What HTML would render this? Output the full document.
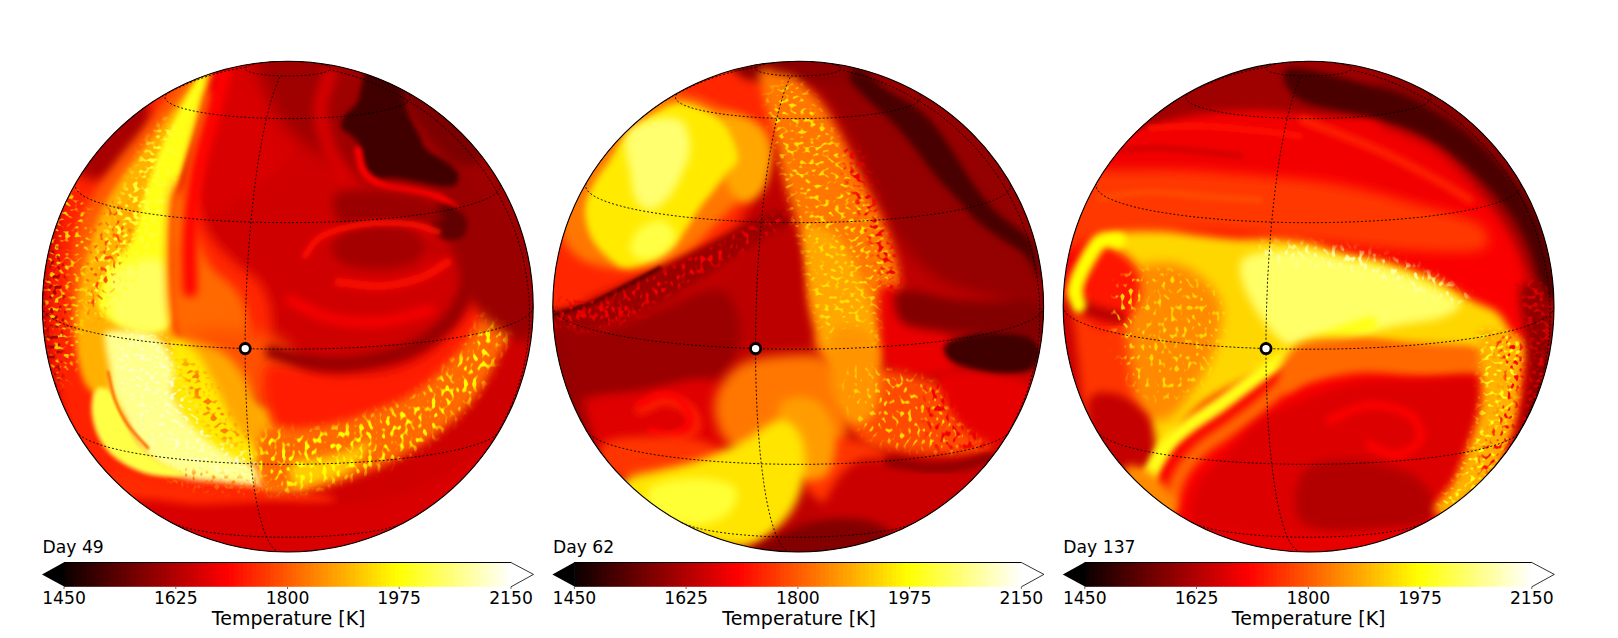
<!DOCTYPE html>
<html><head><meta charset="utf-8"><title>Temperature maps</title>
<style>
html,body{margin:0;padding:0;background:#fff;width:1618px;height:638px;overflow:hidden}
svg{display:block}
text{font-family:"DejaVu Sans","Liberation Sans",sans-serif;fill:#000}
</style></head><body>
<svg width="1618" height="638" viewBox="0 0 1618 638">
<defs><linearGradient id="cb" x1="0" x2="1" y1="0" y2="0"><stop offset="0.0000" stop-color="#0e0000"/><stop offset="0.0100" stop-color="#0e0000"/><stop offset="0.0100" stop-color="#150000"/><stop offset="0.0200" stop-color="#150000"/><stop offset="0.0200" stop-color="#1b0000"/><stop offset="0.0300" stop-color="#1b0000"/><stop offset="0.0300" stop-color="#220000"/><stop offset="0.0400" stop-color="#220000"/><stop offset="0.0400" stop-color="#290000"/><stop offset="0.0500" stop-color="#290000"/><stop offset="0.0500" stop-color="#2f0000"/><stop offset="0.0600" stop-color="#2f0000"/><stop offset="0.0600" stop-color="#360000"/><stop offset="0.0700" stop-color="#360000"/><stop offset="0.0700" stop-color="#3d0000"/><stop offset="0.0800" stop-color="#3d0000"/><stop offset="0.0800" stop-color="#440000"/><stop offset="0.0900" stop-color="#440000"/><stop offset="0.0900" stop-color="#4a0000"/><stop offset="0.1000" stop-color="#4a0000"/><stop offset="0.1000" stop-color="#510000"/><stop offset="0.1100" stop-color="#510000"/><stop offset="0.1100" stop-color="#580000"/><stop offset="0.1200" stop-color="#580000"/><stop offset="0.1200" stop-color="#5e0000"/><stop offset="0.1300" stop-color="#5e0000"/><stop offset="0.1300" stop-color="#650000"/><stop offset="0.1400" stop-color="#650000"/><stop offset="0.1400" stop-color="#6c0000"/><stop offset="0.1500" stop-color="#6c0000"/><stop offset="0.1500" stop-color="#720000"/><stop offset="0.1600" stop-color="#720000"/><stop offset="0.1600" stop-color="#790000"/><stop offset="0.1700" stop-color="#790000"/><stop offset="0.1700" stop-color="#800000"/><stop offset="0.1800" stop-color="#800000"/><stop offset="0.1800" stop-color="#860000"/><stop offset="0.1900" stop-color="#860000"/><stop offset="0.1900" stop-color="#8d0000"/><stop offset="0.2000" stop-color="#8d0000"/><stop offset="0.2000" stop-color="#940000"/><stop offset="0.2100" stop-color="#940000"/><stop offset="0.2100" stop-color="#9b0000"/><stop offset="0.2200" stop-color="#9b0000"/><stop offset="0.2200" stop-color="#a10000"/><stop offset="0.2300" stop-color="#a10000"/><stop offset="0.2300" stop-color="#a80000"/><stop offset="0.2400" stop-color="#a80000"/><stop offset="0.2400" stop-color="#af0000"/><stop offset="0.2500" stop-color="#af0000"/><stop offset="0.2500" stop-color="#b50000"/><stop offset="0.2600" stop-color="#b50000"/><stop offset="0.2600" stop-color="#bc0000"/><stop offset="0.2700" stop-color="#bc0000"/><stop offset="0.2700" stop-color="#c30000"/><stop offset="0.2800" stop-color="#c30000"/><stop offset="0.2800" stop-color="#c90000"/><stop offset="0.2900" stop-color="#c90000"/><stop offset="0.2900" stop-color="#d00000"/><stop offset="0.3000" stop-color="#d00000"/><stop offset="0.3000" stop-color="#d70000"/><stop offset="0.3100" stop-color="#d70000"/><stop offset="0.3100" stop-color="#dd0000"/><stop offset="0.3200" stop-color="#dd0000"/><stop offset="0.3200" stop-color="#e40000"/><stop offset="0.3300" stop-color="#e40000"/><stop offset="0.3300" stop-color="#eb0000"/><stop offset="0.3400" stop-color="#eb0000"/><stop offset="0.3400" stop-color="#f20000"/><stop offset="0.3500" stop-color="#f20000"/><stop offset="0.3500" stop-color="#f80000"/><stop offset="0.3600" stop-color="#f80000"/><stop offset="0.3600" stop-color="#ff0000"/><stop offset="0.3700" stop-color="#ff0000"/><stop offset="0.3700" stop-color="#ff0700"/><stop offset="0.3800" stop-color="#ff0700"/><stop offset="0.3800" stop-color="#ff0d00"/><stop offset="0.3900" stop-color="#ff0d00"/><stop offset="0.3900" stop-color="#ff1400"/><stop offset="0.4000" stop-color="#ff1400"/><stop offset="0.4000" stop-color="#ff1b00"/><stop offset="0.4100" stop-color="#ff1b00"/><stop offset="0.4100" stop-color="#ff2100"/><stop offset="0.4200" stop-color="#ff2100"/><stop offset="0.4200" stop-color="#ff2800"/><stop offset="0.4300" stop-color="#ff2800"/><stop offset="0.4300" stop-color="#ff2f00"/><stop offset="0.4400" stop-color="#ff2f00"/><stop offset="0.4400" stop-color="#ff3500"/><stop offset="0.4500" stop-color="#ff3500"/><stop offset="0.4500" stop-color="#ff3c00"/><stop offset="0.4600" stop-color="#ff3c00"/><stop offset="0.4600" stop-color="#ff4300"/><stop offset="0.4700" stop-color="#ff4300"/><stop offset="0.4700" stop-color="#ff4a00"/><stop offset="0.4800" stop-color="#ff4a00"/><stop offset="0.4800" stop-color="#ff5000"/><stop offset="0.4900" stop-color="#ff5000"/><stop offset="0.4900" stop-color="#ff5700"/><stop offset="0.5000" stop-color="#ff5700"/><stop offset="0.5000" stop-color="#ff5e00"/><stop offset="0.5100" stop-color="#ff5e00"/><stop offset="0.5100" stop-color="#ff6400"/><stop offset="0.5200" stop-color="#ff6400"/><stop offset="0.5200" stop-color="#ff6b00"/><stop offset="0.5300" stop-color="#ff6b00"/><stop offset="0.5300" stop-color="#ff7200"/><stop offset="0.5400" stop-color="#ff7200"/><stop offset="0.5400" stop-color="#ff7800"/><stop offset="0.5500" stop-color="#ff7800"/><stop offset="0.5500" stop-color="#ff7f00"/><stop offset="0.5600" stop-color="#ff7f00"/><stop offset="0.5600" stop-color="#ff8600"/><stop offset="0.5700" stop-color="#ff8600"/><stop offset="0.5700" stop-color="#ff8d00"/><stop offset="0.5800" stop-color="#ff8d00"/><stop offset="0.5800" stop-color="#ff9300"/><stop offset="0.5900" stop-color="#ff9300"/><stop offset="0.5900" stop-color="#ff9a00"/><stop offset="0.6000" stop-color="#ff9a00"/><stop offset="0.6000" stop-color="#ffa100"/><stop offset="0.6100" stop-color="#ffa100"/><stop offset="0.6100" stop-color="#ffa700"/><stop offset="0.6200" stop-color="#ffa700"/><stop offset="0.6200" stop-color="#ffae00"/><stop offset="0.6300" stop-color="#ffae00"/><stop offset="0.6300" stop-color="#ffb500"/><stop offset="0.6400" stop-color="#ffb500"/><stop offset="0.6400" stop-color="#ffbb00"/><stop offset="0.6500" stop-color="#ffbb00"/><stop offset="0.6500" stop-color="#ffc200"/><stop offset="0.6600" stop-color="#ffc200"/><stop offset="0.6600" stop-color="#ffc900"/><stop offset="0.6700" stop-color="#ffc900"/><stop offset="0.6700" stop-color="#ffcf00"/><stop offset="0.6800" stop-color="#ffcf00"/><stop offset="0.6800" stop-color="#ffd600"/><stop offset="0.6900" stop-color="#ffd600"/><stop offset="0.6900" stop-color="#ffdd00"/><stop offset="0.7000" stop-color="#ffdd00"/><stop offset="0.7000" stop-color="#ffe400"/><stop offset="0.7100" stop-color="#ffe400"/><stop offset="0.7100" stop-color="#ffea00"/><stop offset="0.7200" stop-color="#ffea00"/><stop offset="0.7200" stop-color="#fff100"/><stop offset="0.7300" stop-color="#fff100"/><stop offset="0.7300" stop-color="#fff800"/><stop offset="0.7400" stop-color="#fff800"/><stop offset="0.7400" stop-color="#fffe00"/><stop offset="0.7500" stop-color="#fffe00"/><stop offset="0.7500" stop-color="#ffff09"/><stop offset="0.7600" stop-color="#ffff09"/><stop offset="0.7600" stop-color="#ffff13"/><stop offset="0.7700" stop-color="#ffff13"/><stop offset="0.7700" stop-color="#ffff1d"/><stop offset="0.7800" stop-color="#ffff1d"/><stop offset="0.7800" stop-color="#ffff27"/><stop offset="0.7900" stop-color="#ffff27"/><stop offset="0.7900" stop-color="#ffff31"/><stop offset="0.8000" stop-color="#ffff31"/><stop offset="0.8000" stop-color="#ffff3b"/><stop offset="0.8100" stop-color="#ffff3b"/><stop offset="0.8100" stop-color="#ffff45"/><stop offset="0.8200" stop-color="#ffff45"/><stop offset="0.8200" stop-color="#ffff4f"/><stop offset="0.8300" stop-color="#ffff4f"/><stop offset="0.8300" stop-color="#ffff59"/><stop offset="0.8400" stop-color="#ffff59"/><stop offset="0.8400" stop-color="#ffff63"/><stop offset="0.8500" stop-color="#ffff63"/><stop offset="0.8500" stop-color="#ffff6d"/><stop offset="0.8600" stop-color="#ffff6d"/><stop offset="0.8600" stop-color="#ffff77"/><stop offset="0.8700" stop-color="#ffff77"/><stop offset="0.8700" stop-color="#ffff81"/><stop offset="0.8800" stop-color="#ffff81"/><stop offset="0.8800" stop-color="#ffff8c"/><stop offset="0.8900" stop-color="#ffff8c"/><stop offset="0.8900" stop-color="#ffff96"/><stop offset="0.9000" stop-color="#ffff96"/><stop offset="0.9000" stop-color="#ffffa0"/><stop offset="0.9100" stop-color="#ffffa0"/><stop offset="0.9100" stop-color="#ffffaa"/><stop offset="0.9200" stop-color="#ffffaa"/><stop offset="0.9200" stop-color="#ffffb4"/><stop offset="0.9300" stop-color="#ffffb4"/><stop offset="0.9300" stop-color="#ffffbe"/><stop offset="0.9400" stop-color="#ffffbe"/><stop offset="0.9400" stop-color="#ffffc8"/><stop offset="0.9500" stop-color="#ffffc8"/><stop offset="0.9500" stop-color="#ffffd2"/><stop offset="0.9600" stop-color="#ffffd2"/><stop offset="0.9600" stop-color="#ffffdc"/><stop offset="0.9700" stop-color="#ffffdc"/><stop offset="0.9700" stop-color="#ffffe6"/><stop offset="0.9800" stop-color="#ffffe6"/><stop offset="0.9800" stop-color="#fffff0"/><stop offset="0.9900" stop-color="#fffff0"/><stop offset="0.9900" stop-color="#fffffa"/><stop offset="1.0000" stop-color="#fffffa"/></linearGradient><filter id="b2" x="-50%" y="-50%" width="200%" height="200%"><feGaussianBlur stdDeviation="1"/></filter><filter id="b3" x="-50%" y="-50%" width="200%" height="200%"><feGaussianBlur stdDeviation="1.5"/></filter><filter id="b4" x="-50%" y="-50%" width="200%" height="200%"><feGaussianBlur stdDeviation="2"/></filter><filter id="b5" x="-50%" y="-50%" width="200%" height="200%"><feGaussianBlur stdDeviation="2.5"/></filter><filter id="b6" x="-50%" y="-50%" width="200%" height="200%"><feGaussianBlur stdDeviation="3"/></filter><filter id="b8" x="-50%" y="-50%" width="200%" height="200%"><feGaussianBlur stdDeviation="4"/></filter><filter id="b10" x="-50%" y="-50%" width="200%" height="200%"><feGaussianBlur stdDeviation="5"/></filter><filter id="b12" x="-50%" y="-50%" width="200%" height="200%"><feGaussianBlur stdDeviation="6"/></filter><filter id="b14" x="-50%" y="-50%" width="200%" height="200%"><feGaussianBlur stdDeviation="7"/></filter><filter id="b16" x="-50%" y="-50%" width="200%" height="200%"><feGaussianBlur stdDeviation="8"/></filter><filter id="gA" filterUnits="userSpaceOnUse" x="0" y="0" width="1618" height="638"><feTurbulence type="fractalNoise" baseFrequency="0.22 0.16" numOctaves="1" seed="3" result="n"/><feColorMatrix in="n" type="matrix" values="0 0 0 0 0 0 0 0 0 0 0 0 0 0 0 7 0 0 0 -3.7" result="m"/><feGaussianBlur in="SourceGraphic" stdDeviation="5" result="s"/><feComposite in="s" in2="m" operator="in"/></filter><filter id="gB" filterUnits="userSpaceOnUse" x="0" y="0" width="1618" height="638"><feTurbulence type="fractalNoise" baseFrequency="0.2 0.26" numOctaves="1" seed="7" result="n"/><feColorMatrix in="n" type="matrix" values="0 0 0 0 0 0 0 0 0 0 0 0 0 0 0 7 0 0 0 -3.8" result="m"/><feGaussianBlur in="SourceGraphic" stdDeviation="4" result="s"/><feComposite in="s" in2="m" operator="in"/></filter><filter id="gC" filterUnits="userSpaceOnUse" x="0" y="0" width="1618" height="638"><feTurbulence type="fractalNoise" baseFrequency="0.26 0.2" numOctaves="1" seed="11" result="n"/><feColorMatrix in="n" type="matrix" values="0 0 0 0 0 0 0 0 0 0 0 0 0 0 0 7 0 0 0 -3.8" result="m"/><feGaussianBlur in="SourceGraphic" stdDeviation="4" result="s"/><feComposite in="s" in2="m" operator="in"/></filter><filter id="gD" filterUnits="userSpaceOnUse" x="0" y="0" width="1618" height="638"><feTurbulence type="fractalNoise" baseFrequency="0.18 0.24" numOctaves="1" seed="17" result="n"/><feColorMatrix in="n" type="matrix" values="0 0 0 0 0 0 0 0 0 0 0 0 0 0 0 7 0 0 0 -3.6" result="m"/><feGaussianBlur in="SourceGraphic" stdDeviation="5" result="s"/><feComposite in="s" in2="m" operator="in"/></filter><filter id="gE" filterUnits="userSpaceOnUse" x="0" y="0" width="1618" height="638"><feTurbulence type="fractalNoise" baseFrequency="0.24 0.18" numOctaves="1" seed="23" result="n"/><feColorMatrix in="n" type="matrix" values="0 0 0 0 0 0 0 0 0 0 0 0 0 0 0 7 0 0 0 -4" result="m"/><feGaussianBlur in="SourceGraphic" stdDeviation="4" result="s"/><feComposite in="s" in2="m" operator="in"/></filter></defs>
<clipPath id="clip0"><circle cx="287.8" cy="306.6" r="245.4"/></clipPath>
<g clip-path="url(#clip0)">
<circle cx="287.8" cy="306.6" r="247.4" fill="#cf0000"/>
<path d="M200.0 50.0 C216.7 25.0 283.3 35.0 300.0 50.0 C316.7 65.0 310.0 115.0 300.0 140.0 C290.0 165.0 256.7 190.0 240.0 200.0 C223.3 210.0 206.7 225.0 200.0 200.0 C193.3 175.0 183.3 75.0 200.0 50.0Z" fill="#d80000" filter="url(#b10)"/>
<path d="M265.0 45.0 C289.2 34.2 380.8 34.2 420.0 45.0 C459.2 55.8 480.0 84.2 500.0 110.0 C520.0 135.8 533.3 173.3 540.0 200.0 C546.7 226.7 545.8 261.7 540.0 270.0 C534.2 278.3 516.7 259.2 505.0 250.0 C493.3 240.8 482.5 223.3 470.0 215.0 C457.5 206.7 445.0 204.5 430.0 200.0 C415.0 195.5 395.0 193.8 380.0 188.0 C365.0 182.2 353.3 173.0 340.0 165.0 C326.7 157.0 310.8 149.2 300.0 140.0 C289.2 130.8 280.8 125.8 275.0 110.0 C269.2 94.2 240.8 55.8 265.0 45.0Z" fill="#9f0000" filter="url(#b16)"/>
<path d="M20.0 130.0 C36.7 76.7 87.5 93.3 120.0 80.0 C152.5 66.7 199.7 50.7 215.0 50.0 C230.3 49.3 215.0 64.5 212.0 76.0 C209.0 87.5 201.5 105.3 197.0 119.0 C192.5 132.7 188.2 147.7 185.0 158.0 C181.8 168.3 180.2 171.8 178.0 181.0 C175.8 190.2 173.0 197.2 172.0 213.0 C171.0 228.8 171.5 260.3 172.0 276.0 C172.5 291.7 173.0 296.7 175.0 307.0 C177.0 317.3 179.0 329.2 184.0 338.0 C189.0 346.8 198.2 350.5 205.0 360.0 C211.8 369.5 219.2 383.3 225.0 395.0 C230.8 406.7 235.0 419.2 240.0 430.0 C245.0 440.8 249.2 450.8 255.0 460.0 C260.8 469.2 279.2 475.0 275.0 485.0 C270.8 495.0 250.8 510.8 230.0 520.0 C209.2 529.2 178.3 543.3 150.0 540.0 C121.7 536.7 81.7 523.3 60.0 500.0 C38.3 476.7 26.7 461.7 20.0 400.0 C13.3 338.3 3.3 183.3 20.0 130.0Z" fill="#ff2100" filter="url(#b10)"/>
<path d="M20.0 180.0 C25.8 133.3 48.0 165.0 55.0 170.0 C62.0 175.0 62.5 195.0 62.0 210.0 C61.5 225.0 54.3 245.0 52.0 260.0 C49.7 275.0 48.0 283.3 48.0 300.0 C48.0 316.7 49.0 340.0 52.0 360.0 C55.0 380.0 60.5 401.7 66.0 420.0 C71.5 438.3 77.7 453.3 85.0 470.0 C92.3 486.7 112.5 510.0 110.0 520.0 C107.5 530.0 85.0 541.7 70.0 530.0 C55.0 518.3 28.3 508.3 20.0 450.0 C11.7 391.7 14.2 226.7 20.0 180.0Z" fill="#d30000" filter="url(#b10)"/>
<path d="M20.0 400.0 C25.0 385.0 43.7 385.0 50.0 390.0 C56.3 395.0 53.8 416.7 58.0 430.0 C62.2 443.3 68.8 458.3 75.0 470.0 C81.2 481.7 95.8 491.7 95.0 500.0 C94.2 508.3 82.5 523.3 70.0 520.0 C57.5 516.7 28.3 500.0 20.0 480.0 C11.7 460.0 15.0 415.0 20.0 400.0Z" fill="#c00000" filter="url(#b8)"/>
<path d="M85.0 105.0 C94.5 97.0 114.2 91.2 125.0 92.0 C135.8 92.8 146.7 102.0 150.0 110.0 C153.3 118.0 149.2 130.8 145.0 140.0 C140.8 149.2 132.5 158.3 125.0 165.0 C117.5 171.7 108.3 179.2 100.0 180.0 C91.7 180.8 80.3 176.7 75.0 170.0 C69.7 163.3 66.3 150.8 68.0 140.0 C69.7 129.2 75.5 113.0 85.0 105.0Z" fill="#a80000" filter="url(#b12)"/>
<path d="M180.0 80.0 C188.3 71.7 198.3 61.7 200.0 70.0 C201.7 78.3 196.7 113.3 190.0 130.0 C183.3 146.7 171.7 158.3 160.0 170.0 C148.3 181.7 130.8 188.3 120.0 200.0 C109.2 211.7 100.8 225.0 95.0 240.0 C89.2 255.0 87.5 275.0 85.0 290.0 C82.5 305.0 79.5 318.3 80.0 330.0 C80.5 341.7 89.3 360.0 88.0 360.0 C86.7 360.0 75.0 343.3 72.0 330.0 C69.0 316.7 68.7 298.3 70.0 280.0 C71.3 261.7 73.3 238.3 80.0 220.0 C86.7 201.7 98.3 186.7 110.0 170.0 C121.7 153.3 138.3 135.0 150.0 120.0 C161.7 105.0 171.7 88.3 180.0 80.0Z" fill="#ff5a00" filter="url(#b8)"/>
<path d="M213.0 62.0 C215.0 62.8 212.7 70.5 210.0 80.0 C207.3 89.5 201.2 106.0 197.0 119.0 C192.8 132.0 188.2 147.7 185.0 158.0 C181.8 168.3 180.2 171.8 178.0 181.0 C175.8 190.2 173.3 197.2 172.0 213.0 C170.7 228.8 170.0 260.3 170.0 276.0 C170.0 291.7 170.7 296.7 172.0 307.0 C173.3 317.3 173.3 329.2 178.0 338.0 C182.7 346.8 194.0 351.3 200.0 360.0 C206.0 368.7 209.0 380.0 214.0 390.0 C219.0 400.0 226.0 411.7 230.0 420.0 C234.0 428.3 243.0 435.8 238.0 440.0 C233.0 444.2 213.0 448.3 200.0 445.0 C187.0 441.7 173.3 427.5 160.0 420.0 C146.7 412.5 131.7 405.0 120.0 400.0 C108.3 395.0 97.0 396.7 90.0 390.0 C83.0 383.3 80.3 371.7 78.0 360.0 C75.7 348.3 75.7 332.5 76.0 320.0 C76.3 307.5 78.0 296.7 80.0 285.0 C82.0 273.3 84.7 261.7 88.0 250.0 C91.3 238.3 94.7 226.7 100.0 215.0 C105.3 203.3 111.7 192.5 120.0 180.0 C128.3 167.5 140.0 153.3 150.0 140.0 C160.0 126.7 172.0 110.8 180.0 100.0 C188.0 89.2 192.5 81.3 198.0 75.0 C203.5 68.7 211.0 61.2 213.0 62.0Z" fill="#ffb000" filter="url(#b6)"/>
<path d="M205.0 72.0 C207.0 75.2 200.3 104.7 197.0 119.0 C193.7 133.3 188.2 147.7 185.0 158.0 C181.8 168.3 180.2 171.8 178.0 181.0 C175.8 190.2 173.3 197.2 172.0 213.0 C170.7 228.8 170.0 258.2 170.0 276.0 C170.0 293.8 175.3 310.7 172.0 320.0 C168.7 329.3 158.7 331.2 150.0 332.0 C141.3 332.8 128.7 329.5 120.0 325.0 C111.3 320.5 100.0 314.2 98.0 305.0 C96.0 295.8 102.3 280.8 108.0 270.0 C113.7 259.2 126.2 251.7 132.0 240.0 C137.8 228.3 138.3 215.0 143.0 200.0 C147.7 185.0 153.0 166.7 160.0 150.0 C167.0 133.3 177.5 113.0 185.0 100.0 C192.5 87.0 203.0 68.8 205.0 72.0Z" fill="#ffff12" filter="url(#b5)"/>
<path d="M118.0 268.0 C127.0 263.0 153.7 253.3 162.0 262.0 C170.3 270.7 169.2 308.3 168.0 320.0 C166.8 331.7 163.8 331.7 155.0 332.0 C146.2 332.3 122.8 328.7 115.0 322.0 C107.2 315.3 107.5 301.0 108.0 292.0 C108.5 283.0 109.0 273.0 118.0 268.0Z" fill="#ffff61" filter="url(#b8)"/>
<path d="M45.0 200.0 C50.2 181.7 67.2 185.0 75.0 190.0 C82.8 195.0 89.5 213.3 92.0 230.0 C94.5 246.7 91.7 271.7 90.0 290.0 C88.3 308.3 85.7 325.0 82.0 340.0 C78.3 355.0 73.0 375.0 68.0 380.0 C63.0 385.0 56.0 383.3 52.0 370.0 C48.0 356.7 45.2 328.3 44.0 300.0 C42.8 271.7 39.8 218.3 45.0 200.0Z" fill="#ffcd00" filter="url(#gB)"/>
<path d="M42.0 260.0 C44.5 238.3 56.0 243.3 60.0 250.0 C64.0 256.7 65.7 281.7 66.0 300.0 C66.3 318.3 63.3 343.3 62.0 360.0 C60.7 376.7 60.8 396.7 58.0 400.0 C55.2 403.3 47.7 403.3 45.0 380.0 C42.3 356.7 39.5 281.7 42.0 260.0Z" fill="#a40000" filter="url(#gC)"/>
<path d="M150.0 140.0 C157.5 130.0 171.7 110.0 175.0 120.0 C178.3 130.0 174.2 176.7 170.0 200.0 C165.8 223.3 158.3 243.3 150.0 260.0 C141.7 276.7 129.2 290.0 120.0 300.0 C110.8 310.0 100.0 323.3 95.0 320.0 C90.0 316.7 87.5 296.7 90.0 280.0 C92.5 263.3 103.3 236.7 110.0 220.0 C116.7 203.3 123.3 193.3 130.0 180.0 C136.7 166.7 142.5 150.0 150.0 140.0Z" fill="#ffff36" filter="url(#gD)"/>
<path d="M95.0 230.0 C101.0 215.0 114.5 198.3 120.0 200.0 C125.5 201.7 129.7 225.0 128.0 240.0 C126.3 255.0 116.0 276.7 110.0 290.0 C104.0 303.3 96.3 320.0 92.0 320.0 C87.7 320.0 83.5 305.0 84.0 290.0 C84.5 275.0 89.0 245.0 95.0 230.0Z" fill="#ff4700" filter="url(#gE)"/>
<path d="M175.0 190.0 C178.3 172.5 186.2 187.5 192.0 195.0 C197.8 202.5 202.8 223.8 210.0 235.0 C217.2 246.2 226.3 253.7 235.0 262.0 C243.7 270.3 255.8 275.3 262.0 285.0 C268.2 294.7 272.0 309.2 272.0 320.0 C272.0 330.8 269.0 345.0 262.0 350.0 C255.0 355.0 242.0 350.8 230.0 350.0 C218.0 349.2 199.7 353.3 190.0 345.0 C180.3 336.7 174.5 325.8 172.0 300.0 C169.5 274.2 171.7 207.5 175.0 190.0Z" fill="#ff2600" filter="url(#b12)"/>
<path d="M172.0 200.0 C174.5 186.3 180.7 191.3 185.0 198.0 C189.3 204.7 193.5 228.3 198.0 240.0 C202.5 251.7 205.7 259.7 212.0 268.0 C218.3 276.3 230.0 281.7 236.0 290.0 C242.0 298.3 246.7 308.8 248.0 318.0 C249.3 327.2 249.5 340.0 244.0 345.0 C238.5 350.0 224.0 348.0 215.0 348.0 C206.0 348.0 196.7 348.0 190.0 345.0 C183.3 342.0 178.3 340.8 175.0 330.0 C171.7 319.2 170.5 301.7 170.0 280.0 C169.5 258.3 169.5 213.7 172.0 200.0Z" fill="#ff6900" filter="url(#b10)"/>
<path d="M206.0 92.0 C208.3 90.0 214.7 88.3 214.0 98.0 C213.3 107.7 205.3 133.0 202.0 150.0 C198.7 167.0 196.7 185.0 194.0 200.0 C191.3 215.0 188.7 233.3 186.0 240.0 C183.3 246.7 178.8 246.7 178.0 240.0 C177.2 233.3 179.0 215.0 181.0 200.0 C183.0 185.0 186.8 165.0 190.0 150.0 C193.2 135.0 197.3 119.7 200.0 110.0 C202.7 100.3 203.7 94.0 206.0 92.0Z" fill="#ff7700" filter="url(#b8)"/>
<path d="M184.0 338.0 C184.8 331.8 204.0 329.0 215.0 328.0 C226.0 327.0 239.2 330.0 250.0 332.0 C260.8 334.0 272.5 334.5 280.0 340.0 C287.5 345.5 293.0 355.0 295.0 365.0 C297.0 375.0 296.2 392.5 292.0 400.0 C287.8 407.5 277.0 410.0 270.0 410.0 C263.0 410.0 256.7 404.2 250.0 400.0 C243.3 395.8 236.7 390.8 230.0 385.0 C223.3 379.2 217.7 372.8 210.0 365.0 C202.3 357.2 183.2 344.2 184.0 338.0Z" fill="#ff5100" filter="url(#b16)"/>
<path d="M225.0 395.0 C227.5 390.8 245.0 402.5 255.0 405.0 C265.0 407.5 278.8 404.2 285.0 410.0 C291.2 415.8 292.8 431.3 292.0 440.0 C291.2 448.7 285.7 459.0 280.0 462.0 C274.3 465.0 264.7 463.3 258.0 458.0 C251.3 452.7 245.5 440.5 240.0 430.0 C234.5 419.5 222.5 399.2 225.0 395.0Z" fill="#ffba00" filter="url(#b10)"/>
<path d="M268.0 365.0 C278.0 357.3 309.7 373.2 330.0 374.0 C350.3 374.8 373.3 373.7 390.0 370.0 C406.7 366.3 418.3 360.0 430.0 352.0 C441.7 344.0 451.7 332.0 460.0 322.0 C468.3 312.0 474.7 295.3 480.0 292.0 C485.3 288.7 493.3 292.3 492.0 302.0 C490.7 311.7 480.3 335.3 472.0 350.0 C463.7 364.7 454.0 379.0 442.0 390.0 C430.0 401.0 417.0 409.0 400.0 416.0 C383.0 423.0 358.0 427.7 340.0 432.0 C322.0 436.3 303.7 444.0 292.0 442.0 C280.3 440.0 274.0 432.8 270.0 420.0 C266.0 407.2 258.0 372.7 268.0 365.0Z" fill="#ff1c00" filter="url(#b12)"/>
<path d="M178.0 342.0 C185.2 336.7 204.7 343.3 215.0 348.0 C225.3 352.7 233.3 361.3 240.0 370.0 C246.7 378.7 250.8 390.0 255.0 400.0 C259.2 410.0 262.5 420.3 265.0 430.0 C267.5 439.7 273.3 452.3 270.0 458.0 C266.7 463.7 255.8 465.3 245.0 464.0 C234.2 462.7 215.8 458.2 205.0 450.0 C194.2 441.8 185.5 426.7 180.0 415.0 C174.5 403.3 172.3 392.2 172.0 380.0 C171.7 367.8 170.8 347.3 178.0 342.0Z" fill="#ffa700" filter="url(#b10)"/>
<path d="M172.0 340.0 C176.3 335.3 188.8 344.5 196.0 352.0 C203.2 359.5 208.5 372.8 215.0 385.0 C221.5 397.2 227.2 412.8 235.0 425.0 C242.8 437.2 261.2 451.5 262.0 458.0 C262.8 464.5 249.5 465.3 240.0 464.0 C230.5 462.7 215.0 458.2 205.0 450.0 C195.0 441.8 185.8 426.7 180.0 415.0 C174.2 403.3 171.3 392.5 170.0 380.0 C168.7 367.5 167.7 344.7 172.0 340.0Z" fill="#ffea00" filter="url(#b8)"/>
<path d="M109.0 331.0 C117.2 329.7 143.3 329.3 154.0 335.0 C164.7 340.7 169.8 355.0 173.0 365.0 C176.2 375.0 169.8 385.0 173.0 395.0 C176.2 405.0 184.5 416.2 192.0 425.0 C199.5 433.8 208.7 441.7 218.0 448.0 C227.3 454.3 239.2 459.3 248.0 463.0 C256.8 466.7 262.3 468.2 271.0 470.0 C279.7 471.8 295.2 470.8 300.0 474.0 C304.8 477.2 307.3 487.0 300.0 489.0 C292.7 491.0 269.7 487.2 256.0 486.0 C242.3 484.8 230.0 483.3 218.0 482.0 C206.0 480.7 194.7 481.2 184.0 478.0 C173.3 474.8 162.2 469.3 154.0 463.0 C145.8 456.7 140.0 447.5 135.0 440.0 C130.0 432.5 127.7 425.5 124.0 418.0 C120.3 410.5 115.5 403.8 113.0 395.0 C110.5 386.2 110.3 373.7 109.0 365.0 C107.7 356.3 105.0 348.7 105.0 343.0 C105.0 337.3 100.8 332.3 109.0 331.0Z" fill="#ffff8c" filter="url(#b6)"/>
<path d="M120.0 335.0 C127.5 328.3 155.0 332.5 165.0 340.0 C175.0 347.5 174.2 366.7 180.0 380.0 C185.8 393.3 191.7 409.2 200.0 420.0 C208.3 430.8 218.3 438.0 230.0 445.0 C241.7 452.0 258.3 457.8 270.0 462.0 C281.7 466.2 295.3 466.2 300.0 470.0 C304.7 473.8 306.3 483.0 298.0 485.0 C289.7 487.0 266.3 484.5 250.0 482.0 C233.7 479.5 215.0 475.3 200.0 470.0 C185.0 464.7 170.8 458.3 160.0 450.0 C149.2 441.7 141.7 431.7 135.0 420.0 C128.3 408.3 122.5 394.2 120.0 380.0 C117.5 365.8 112.5 341.7 120.0 335.0Z" fill="#ffffc6" filter="url(#gB)"/>
<path d="M170.0 470.0 C178.3 468.3 208.3 475.3 230.0 478.0 C251.7 480.7 288.3 483.0 300.0 486.0 C311.7 489.0 310.0 494.3 300.0 496.0 C290.0 497.7 260.0 497.3 240.0 496.0 C220.0 494.7 191.7 492.3 180.0 488.0 C168.3 483.7 161.7 471.7 170.0 470.0Z" fill="#ff7700" filter="url(#gC)"/>
<path d="M180.0 360.0 C181.7 355.0 201.7 370.0 210.0 380.0 C218.3 390.0 223.3 410.0 230.0 420.0 C236.7 430.0 250.8 436.7 250.0 440.0 C249.2 443.3 233.3 445.0 225.0 440.0 C216.7 435.0 207.5 423.3 200.0 410.0 C192.5 396.7 178.3 365.0 180.0 360.0Z" fill="#ff7700" filter="url(#gD)"/>
<path d="M94.0 392.0 C96.2 387.5 101.0 386.7 105.0 388.0 C109.0 389.3 114.2 393.8 118.0 400.0 C121.8 406.2 124.3 417.5 128.0 425.0 C131.7 432.5 134.7 438.8 140.0 445.0 C145.3 451.2 152.5 457.0 160.0 462.0 C167.5 467.0 186.7 472.8 185.0 475.0 C183.3 477.2 161.2 477.5 150.0 475.0 C138.8 472.5 126.3 465.8 118.0 460.0 C109.7 454.2 104.3 447.5 100.0 440.0 C95.7 432.5 93.0 423.0 92.0 415.0 C91.0 407.0 91.8 396.5 94.0 392.0Z" fill="#ffff45" filter="url(#b4)"/>
<path d="M108.0 372.0 C109.2 376.7 111.7 391.2 115.0 400.0 C118.3 408.8 122.5 417.0 128.0 425.0 C133.5 433.0 144.7 444.2 148.0 448.0" fill="none" stroke="#ff6d00" stroke-width="3" stroke-linecap="round" filter="url(#b2)"/>
<path d="M110.0 470.0 C115.0 467.5 135.0 476.7 150.0 480.0 C165.0 483.3 181.7 487.7 200.0 490.0 C218.3 492.3 240.0 493.3 260.0 494.0 C280.0 494.7 308.3 492.5 320.0 494.0 C331.7 495.5 343.3 501.0 330.0 503.0 C316.7 505.0 266.7 506.2 240.0 506.0 C213.3 505.8 190.0 503.8 170.0 502.0 C150.0 500.2 130.0 500.3 120.0 495.0 C110.0 489.7 105.0 472.5 110.0 470.0Z" fill="#ff2b00" filter="url(#b8)"/>
<path d="M120.0 505.0 C135.0 492.5 175.0 505.5 200.0 505.0 C225.0 504.5 248.3 502.0 270.0 502.0 C291.7 502.0 308.3 506.2 330.0 505.0 C351.7 503.8 378.3 501.7 400.0 495.0 C421.7 488.3 440.0 476.7 460.0 465.0 C480.0 453.3 503.3 427.5 520.0 425.0 C536.7 422.5 560.0 424.2 560.0 450.0 C560.0 475.8 595.0 558.3 520.0 580.0 C445.0 601.7 176.7 592.5 110.0 580.0 C43.3 567.5 105.0 517.5 120.0 505.0Z" fill="#d80000" filter="url(#b8)"/>
<path d="M262.0 432.0 C268.3 422.0 288.7 429.3 300.0 428.0 C311.3 426.7 319.2 426.3 330.0 424.0 C340.8 421.7 351.7 418.8 365.0 414.0 C378.3 409.2 396.7 403.0 410.0 395.0 C423.3 387.0 435.0 375.8 445.0 366.0 C455.0 356.2 462.5 346.7 470.0 336.0 C477.5 325.3 484.2 312.0 490.0 302.0 C495.8 292.0 499.7 278.8 505.0 276.0 C510.3 273.2 520.3 277.7 522.0 285.0 C523.7 292.3 519.0 307.8 515.0 320.0 C511.0 332.2 504.7 345.0 498.0 358.0 C491.3 371.0 484.7 385.7 475.0 398.0 C465.3 410.3 453.3 421.7 440.0 432.0 C426.7 442.3 411.7 451.7 395.0 460.0 C378.3 468.3 355.8 476.7 340.0 482.0 C324.2 487.3 313.0 491.0 300.0 492.0 C287.0 493.0 268.3 498.0 262.0 488.0 C255.7 478.0 255.7 442.0 262.0 432.0Z" fill="#ff6900" filter="url(#b8)"/>
<path d="M292.0 462.0 C296.2 457.3 310.3 460.0 320.0 458.0 C329.7 456.0 341.7 452.7 350.0 450.0 C358.3 447.3 370.0 438.7 370.0 442.0 C370.0 445.3 358.3 463.3 350.0 470.0 C341.7 476.7 329.2 479.3 320.0 482.0 C310.8 484.7 299.7 489.3 295.0 486.0 C290.3 482.7 287.8 466.7 292.0 462.0Z" fill="#ffd700" filter="url(#b8)" fill-opacity="0.90"/>
<path d="M262.0 436.0 C268.3 427.0 288.7 433.3 300.0 432.0 C311.3 430.7 319.2 430.3 330.0 428.0 C340.8 425.7 351.7 422.7 365.0 418.0 C378.3 413.3 396.7 408.0 410.0 400.0 C423.3 392.0 435.0 380.0 445.0 370.0 C455.0 360.0 462.5 350.7 470.0 340.0 C477.5 329.3 484.2 315.7 490.0 306.0 C495.8 296.3 500.3 285.0 505.0 282.0 C509.7 279.0 516.8 281.3 518.0 288.0 C519.2 294.7 515.8 310.0 512.0 322.0 C508.2 334.0 501.7 347.3 495.0 360.0 C488.3 372.7 481.5 386.0 472.0 398.0 C462.5 410.0 450.8 421.7 438.0 432.0 C425.2 442.3 411.3 452.0 395.0 460.0 C378.7 468.0 355.8 475.0 340.0 480.0 C324.2 485.0 313.0 489.0 300.0 490.0 C287.0 491.0 268.3 495.0 262.0 486.0 C255.7 477.0 255.7 445.0 262.0 436.0Z" fill="#fffd00" filter="url(#gA)"/>
<path d="M272.0 352.0 C276.7 353.3 288.0 358.0 300.0 360.0 C312.0 362.0 326.8 365.3 344.0 364.0 C361.2 362.7 386.7 358.0 403.0 352.0 C419.3 346.0 432.2 336.7 442.0 328.0 C451.8 319.3 456.0 311.3 462.0 300.0 C468.0 288.7 475.3 266.7 478.0 260.0" fill="none" stroke="#950000" stroke-width="14" stroke-linecap="round" filter="url(#b8)"/>
<path d="M440.0 160.0 C446.7 155.0 466.7 176.7 480.0 190.0 C493.3 203.3 510.0 221.7 520.0 240.0 C530.0 258.3 538.3 283.3 540.0 300.0 C541.7 316.7 536.7 335.0 530.0 340.0 C523.3 345.0 510.0 336.7 500.0 330.0 C490.0 323.3 477.5 311.7 470.0 300.0 C462.5 288.3 460.0 273.3 455.0 260.0 C450.0 246.7 442.5 236.7 440.0 220.0 C437.5 203.3 433.3 165.0 440.0 160.0Z" fill="#9a0000" filter="url(#b12)"/>
<path d="M368.0 72.0 C375.0 71.2 397.3 73.5 404.0 80.0 C410.7 86.5 405.5 102.0 408.0 111.0 C410.5 120.0 415.8 127.5 419.0 134.0 C422.2 140.5 422.3 145.3 427.0 150.0 C431.7 154.7 441.8 158.0 447.0 162.0 C452.2 166.0 456.7 170.2 458.0 174.0 C459.3 177.8 458.2 183.0 455.0 185.0 C451.8 187.0 445.0 186.5 439.0 186.0 C433.0 185.5 426.2 183.3 419.0 182.0 C411.8 180.7 403.2 178.7 396.0 178.0 C388.8 177.3 381.0 179.3 376.0 178.0 C371.0 176.7 368.3 174.0 366.0 170.0 C363.7 166.0 363.3 158.7 362.0 154.0 C360.7 149.3 360.2 145.3 358.0 142.0 C355.8 138.7 351.8 136.5 349.0 134.0 C346.2 131.5 341.7 130.2 341.0 127.0 C340.3 123.8 342.3 119.0 345.0 115.0 C347.7 111.0 354.2 108.0 357.0 103.0 C359.8 98.0 360.2 90.2 362.0 85.0 C363.8 79.8 361.0 72.8 368.0 72.0Z" fill="#3f0000" filter="url(#b5)"/>
<path d="M404.0 85.0 C409.3 84.2 429.0 92.5 440.0 100.0 C451.0 107.5 463.3 120.0 470.0 130.0 C476.7 140.0 481.7 154.2 480.0 160.0 C478.3 165.8 466.7 166.7 460.0 165.0 C453.3 163.3 446.7 156.7 440.0 150.0 C433.3 143.3 425.3 132.5 420.0 125.0 C414.7 117.5 410.7 111.7 408.0 105.0 C405.3 98.3 398.7 85.8 404.0 85.0Z" fill="#7d0000" filter="url(#b10)"/>
<path d="M358.0 150.0 C359.0 153.7 359.7 166.0 364.0 172.0 C368.3 178.0 376.7 183.0 384.0 186.0 C391.3 189.0 398.8 188.2 408.0 190.0 C417.2 191.8 431.2 194.0 439.0 197.0 C446.8 200.0 452.3 206.2 455.0 208.0" fill="none" stroke="#ff0600" stroke-width="7" stroke-linecap="round" filter="url(#b4)"/>
<path d="M431.0 210.0 C434.0 205.8 444.2 203.7 450.0 205.0 C455.8 206.3 463.7 212.8 466.0 218.0 C468.3 223.2 467.3 232.3 464.0 236.0 C460.7 239.7 451.3 241.0 446.0 240.0 C440.7 239.0 434.5 235.0 432.0 230.0 C429.5 225.0 428.0 214.2 431.0 210.0Z" fill="#610000" filter="url(#b5)"/>
<path d="M330.0 75.0 C328.3 80.8 320.0 97.5 320.0 110.0 C320.0 122.5 325.8 138.3 330.0 150.0 C334.2 161.7 342.5 175.0 345.0 180.0" fill="none" stroke="#d80000" stroke-width="14" stroke-linecap="round" filter="url(#b10)"/>
<path d="M350.0 235.0 C358.3 235.8 385.0 237.5 400.0 240.0 C415.0 242.5 433.3 248.3 440.0 250.0" fill="none" stroke="#c00000" stroke-width="12" stroke-linecap="round" filter="url(#b10)"/>
<path d="M225.0 68.0 C222.8 76.7 216.5 103.0 212.0 120.0 C207.5 137.0 201.7 151.7 198.0 170.0 C194.3 188.3 191.3 210.0 190.0 230.0 C188.7 250.0 190.0 280.0 190.0 290.0" fill="none" stroke="#ff0400" stroke-width="14" stroke-linecap="round" filter="url(#b8)"/>
<path d="M335.0 195.0 C340.0 189.7 357.5 190.0 370.0 190.0 C382.5 190.0 398.8 192.5 410.0 195.0 C421.2 197.5 432.0 200.5 437.0 205.0 C442.0 209.5 444.5 218.5 440.0 222.0 C435.5 225.5 421.7 225.7 410.0 226.0 C398.3 226.3 381.7 224.7 370.0 224.0 C358.3 223.3 345.8 226.8 340.0 222.0 C334.2 217.2 330.0 200.3 335.0 195.0Z" fill="#9a0000" filter="url(#b10)"/>
<path d="M332.0 245.0 C334.3 240.3 342.0 233.2 350.0 230.0 C358.0 226.8 370.0 226.0 380.0 226.0 C390.0 226.0 402.7 226.8 410.0 230.0 C417.3 233.2 423.2 239.7 424.0 245.0 C424.8 250.3 421.5 258.0 415.0 262.0 C408.5 266.0 395.8 268.3 385.0 269.0 C374.2 269.7 358.2 267.8 350.0 266.0 C341.8 264.2 339.0 261.5 336.0 258.0 C333.0 254.5 329.7 249.7 332.0 245.0Z" fill="#a40000" filter="url(#b8)"/>
<path d="M305.0 256.0 C307.8 252.7 312.0 241.3 322.0 236.0 C332.0 230.7 350.3 226.0 365.0 224.0 C379.7 222.0 397.8 222.7 410.0 224.0 C422.2 225.3 433.3 230.7 438.0 232.0" fill="none" stroke="#ff1000" stroke-width="6" stroke-linecap="round" filter="url(#b5)"/>
<path d="M338.0 282.0 C345.0 282.7 366.3 286.7 380.0 286.0 C393.7 285.3 408.7 282.0 420.0 278.0 C431.3 274.0 443.3 264.7 448.0 262.0" fill="none" stroke="#ff1000" stroke-width="8" stroke-linecap="round" filter="url(#b6)"/>
<path d="M290.0 300.0 C296.7 303.0 315.0 314.3 330.0 318.0 C345.0 321.7 363.3 323.3 380.0 322.0 C396.7 320.7 421.7 312.0 430.0 310.0" fill="none" stroke="#fa0000" stroke-width="10" stroke-linecap="round" filter="url(#b8)"/>
<path d="M171.1 522.5 L172.5 523.2 L174.0 523.9 L175.7 524.6 L177.5 525.2 L179.5 525.9 L181.5 526.5 L183.7 527.2 L186.1 527.8 L188.5 528.4 L191.1 529.0 L193.8 529.6 L196.6 530.2 L199.5 530.7 L202.6 531.2 L205.7 531.7 L208.9 532.2 L212.3 532.7 L215.7 533.1 L219.2 533.6 L222.8 534.0 L226.4 534.3 L230.2 534.7 L234.0 535.0 L237.9 535.4 L241.8 535.6 L245.8 535.9 L249.9 536.2 L254.0 536.4 L258.1 536.6 L262.3 536.7 L266.5 536.9 L270.7 537.0 L275.0 537.1 L279.2 537.1 L283.5 537.2 L287.8 537.2 L292.1 537.2 L296.4 537.1 L300.6 537.1 L304.9 537.0 L309.1 536.9 L313.3 536.7 L317.5 536.6 L321.6 536.4 L325.7 536.2 L329.8 535.9 L333.8 535.6 L337.7 535.4 L341.6 535.0 L345.4 534.7 L349.2 534.3 L352.8 534.0 L356.4 533.6 L359.9 533.1 L363.3 532.7 L366.7 532.2 L369.9 531.7 L373.0 531.2 L376.1 530.7 L379.0 530.2 L381.8 529.6 L384.5 529.0 L387.1 528.4 L389.5 527.8 L391.9 527.2 L394.1 526.5 L396.1 525.9 L398.1 525.2 L399.9 524.6 L401.6 523.9 L403.1 523.2 L404.5 522.5M76.4 431.3 L77.3 432.6 L78.5 433.8 L79.9 435.1 L81.6 436.4 L83.5 437.6 L85.7 438.8 L88.1 440.1 L90.8 441.3 L93.7 442.4 L96.8 443.6 L100.2 444.8 L103.8 445.9 L107.6 447.0 L111.6 448.1 L115.9 449.1 L120.3 450.2 L125.0 451.2 L129.9 452.1 L134.9 453.1 L140.2 454.0 L145.6 454.9 L151.2 455.7 L157.0 456.5 L162.9 457.3 L169.0 458.0 L175.2 458.7 L181.5 459.4 L188.0 460.0 L194.6 460.6 L201.4 461.1 L208.2 461.7 L215.1 462.1 L222.1 462.5 L229.2 462.9 L236.4 463.2 L243.6 463.5 L250.9 463.8 L258.2 464.0 L265.6 464.1 L273.0 464.3 L280.4 464.3 L287.8 464.3 L295.2 464.3 L302.6 464.3 L310.0 464.1 L317.4 464.0 L324.7 463.8 L332.0 463.5 L339.2 463.2 L346.4 462.9 L353.5 462.5 L360.5 462.1 L367.4 461.7 L374.2 461.1 L381.0 460.6 L387.6 460.0 L394.1 459.4 L400.4 458.7 L406.6 458.0 L412.7 457.3 L418.6 456.5 L424.4 455.7 L430.0 454.9 L435.4 454.0 L440.7 453.1 L445.7 452.1 L450.6 451.2 L455.3 450.2 L459.7 449.1 L464.0 448.1 L468.0 447.0 L471.9 445.9 L475.4 444.8 L478.8 443.6 L481.9 442.4 L484.8 441.3 L487.5 440.1 L489.9 438.8 L492.1 437.6 L494.0 436.4 L495.7 435.1 L497.1 433.8 L498.3 432.6 L499.2 431.3M42.4 306.6 L42.5 308.1 L43.0 309.6 L43.7 311.1 L44.8 312.5 L46.1 314.0 L47.8 315.5 L49.7 316.9 L51.9 318.3 L54.4 319.8 L57.2 321.2 L60.3 322.6 L63.6 323.9 L67.2 325.3 L71.1 326.6 L75.3 327.9 L79.7 329.2 L84.4 330.4 L89.3 331.6 L94.4 332.8 L99.8 334.0 L105.4 335.1 L111.3 336.2 L117.3 337.3 L123.6 338.3 L130.1 339.2 L136.7 340.2 L143.6 341.1 L150.6 341.9 L157.8 342.7 L165.1 343.5 L172.6 344.2 L180.2 344.9 L188.0 345.5 L195.9 346.1 L203.9 346.6 L212.0 347.1 L220.2 347.6 L228.4 347.9 L236.8 348.3 L245.2 348.6 L253.6 348.8 L262.1 349.0 L270.7 349.1 L279.2 349.2 L287.8 349.2 L296.4 349.2 L304.9 349.1 L313.5 349.0 L322.0 348.8 L330.4 348.6 L338.8 348.3 L347.2 347.9 L355.4 347.6 L363.6 347.1 L371.7 346.6 L379.7 346.1 L387.6 345.5 L395.4 344.9 L403.0 344.2 L410.5 343.5 L417.8 342.7 L425.0 341.9 L432.0 341.1 L438.9 340.2 L445.5 339.2 L452.0 338.3 L458.3 337.3 L464.3 336.2 L470.2 335.1 L475.8 334.0 L481.2 332.8 L486.3 331.6 L491.2 330.4 L495.9 329.2 L500.3 327.9 L504.5 326.6 L508.4 325.3 L512.0 323.9 L515.3 322.6 L518.4 321.2 L521.2 319.8 L523.7 318.3 L525.9 316.9 L527.8 315.5 L529.5 314.0 L530.8 312.5 L531.9 311.1 L532.6 309.6 L533.1 308.1 L533.2 306.6M75.8 183.2 L75.4 184.5 L75.3 185.8 L75.4 187.1 L75.8 188.3 L76.4 189.6 L77.3 190.9 L78.5 192.2 L79.9 193.4 L81.6 194.7 L83.5 195.9 L85.7 197.2 L88.1 198.4 L90.8 199.6 L93.7 200.8 L96.8 201.9 L100.2 203.1 L103.8 204.2 L107.6 205.3 L111.6 206.4 L115.9 207.5 L120.3 208.5 L125.0 209.5 L129.9 210.5 L134.9 211.4 L140.2 212.3 L145.6 213.2 L151.2 214.0 L157.0 214.8 L162.9 215.6 L169.0 216.4 L175.2 217.1 L181.5 217.7 L188.0 218.3 L194.6 218.9 L201.4 219.5 L208.2 220.0 L215.1 220.4 L222.1 220.9 L229.2 221.2 L236.4 221.6 L243.6 221.9 L250.9 222.1 L258.2 222.3 L265.6 222.5 L273.0 222.6 L280.4 222.6 L287.8 222.7 L295.2 222.6 L302.6 222.6 L310.0 222.5 L317.4 222.3 L324.7 222.1 L332.0 221.9 L339.2 221.6 L346.4 221.2 L353.5 220.9 L360.5 220.4 L367.4 220.0 L374.2 219.5 L381.0 218.9 L387.6 218.3 L394.1 217.7 L400.4 217.1 L406.6 216.4 L412.7 215.6 L418.6 214.8 L424.4 214.0 L430.0 213.2 L435.4 212.3 L440.7 211.4 L445.7 210.5 L450.6 209.5 L455.3 208.5 L459.7 207.5 L464.0 206.4 L468.0 205.3 L471.9 204.2 L475.4 203.1 L478.8 201.9 L481.9 200.8 L484.8 199.6 L487.5 198.4 L489.9 197.2 L492.1 195.9 L494.0 194.7 L495.7 193.4 L497.1 192.2 L498.3 190.9 L499.2 189.6 L499.8 188.3 L500.2 187.1 L500.3 185.8 L500.2 184.5 L499.8 183.2M169.9 91.4 L168.7 92.2 L167.8 92.9 L167.0 93.6 L166.3 94.3 L165.8 95.1 L165.4 95.8 L165.2 96.6 L165.1 97.3 L165.2 98.0 L165.4 98.8 L165.8 99.5 L166.3 100.3 L167.0 101.0 L167.8 101.7 L168.7 102.5 L169.9 103.2 L171.1 103.9 L172.5 104.6 L174.0 105.3 L175.7 106.0 L177.5 106.6 L179.5 107.3 L181.5 108.0 L183.7 108.6 L186.1 109.2 L188.5 109.8 L191.1 110.4 L193.8 111.0 L196.6 111.6 L199.5 112.1 L202.6 112.6 L205.7 113.1 L208.9 113.6 L212.3 114.1 L215.7 114.5 L219.2 115.0 L222.8 115.4 L226.4 115.8 L230.2 116.1 L234.0 116.5 L237.9 116.8 L241.8 117.1 L245.8 117.3 L249.9 117.6 L254.0 117.8 L258.1 118.0 L262.3 118.1 L266.5 118.3 L270.7 118.4 L275.0 118.5 L279.2 118.6 L283.5 118.6 L287.8 118.6 L292.1 118.6 L296.4 118.6 L300.6 118.5 L304.9 118.4 L309.1 118.3 L313.3 118.1 L317.5 118.0 L321.6 117.8 L325.7 117.6 L329.8 117.3 L333.8 117.1 L337.7 116.8 L341.6 116.5 L345.4 116.1 L349.2 115.8 L352.8 115.4 L356.4 115.0 L359.9 114.5 L363.3 114.1 L366.7 113.6 L369.9 113.1 L373.0 112.6 L376.1 112.1 L379.0 111.6 L381.8 111.0 L384.5 110.4 L387.1 109.8 L389.5 109.2 L391.9 108.6 L394.1 108.0 L396.1 107.3 L398.1 106.6 L399.9 106.0 L401.6 105.3 L403.1 104.6 L404.5 103.9 L405.7 103.2 L406.9 102.5 L407.8 101.7 L408.6 101.0 L409.3 100.3 L409.8 99.5 L410.2 98.8 L410.4 98.0 L410.5 97.3 L410.4 96.6 L410.2 95.8 L409.8 95.1 L409.3 94.3 L408.6 93.6 L407.8 92.9 L406.9 92.2 L405.7 91.4M295.2 61.3 L293.7 61.3 L292.3 61.2 L290.8 61.2 L289.3 61.2M286.3 61.2 L284.8 61.2 L283.3 61.2 L281.9 61.3 L280.4 61.3 L278.9 61.4 L277.5 61.4 L276.1 61.5 L274.6 61.6 L273.2 61.6 L271.8 61.7 L270.5 61.8 L269.1 61.9 L267.8 62.1 L266.5 62.2 L265.2 62.3 L264.0 62.5 L262.8 62.6 L261.6 62.8 L260.4 62.9 L259.3 63.1 L258.2 63.3 L257.1 63.5 L256.1 63.6 L255.2 63.8 L254.2 64.0 L253.3 64.3 L252.5 64.5 L251.7 64.7 L250.9 64.9 L250.2 65.1 L249.5 65.4 L248.9 65.6 L248.3 65.8 L247.8 66.1 L247.3 66.3 L246.8 66.6 L246.5 66.8 L246.1 67.1 L245.8 67.3 L245.6 67.6 L245.4 67.8 L245.3 68.1 L245.2 68.3 L245.2 68.6 L245.2 68.9 L245.3 69.1 L245.4 69.4 L245.6 69.6 L245.8 69.9 L246.1 70.1 L246.5 70.4 L246.8 70.6 L247.3 70.9 L247.8 71.1 L248.3 71.4 L248.9 71.6 L249.5 71.8 L250.2 72.1 L250.9 72.3 L251.7 72.5 L252.5 72.7 L253.3 72.9 L254.2 73.2 L255.2 73.4 L256.1 73.6 L257.1 73.7 L258.2 73.9 L259.3 74.1 L260.4 74.3 L261.6 74.4 L262.8 74.6 L264.0 74.7 L265.2 74.9 L266.5 75.0 L267.8 75.1 L269.1 75.3 L270.5 75.4 L271.8 75.5 L273.2 75.6 L274.6 75.6 L276.1 75.7 L277.5 75.8 L278.9 75.8 L280.4 75.9 L281.9 75.9 L283.3 76.0 L284.8 76.0 L286.3 76.0 L287.8 76.0 L289.3 76.0 L290.8 76.0 L292.3 76.0 L293.7 75.9 L295.2 75.9 L296.7 75.8 L298.1 75.8 L299.5 75.7 L301.0 75.6 L302.4 75.6 L303.8 75.5 L305.1 75.4 L306.5 75.3 L307.8 75.1 L309.1 75.0 L310.4 74.9 L311.6 74.7 L312.8 74.6 L314.0 74.4 L315.2 74.3 L316.3 74.1 L317.4 73.9 L318.5 73.7 L319.5 73.6 L320.4 73.4 L321.4 73.2 L322.3 72.9 L323.1 72.7 L323.9 72.5 L324.7 72.3 L325.4 72.1 L326.1 71.8 L326.7 71.6 L327.3 71.4 L327.8 71.1 L328.3 70.9 L328.8 70.6 L329.1 70.4 L329.5 70.1 L329.8 69.9 L330.0 69.6 L330.2 69.4 L330.3 69.1 L330.4 68.9 L330.4 68.6 L330.4 68.3 L330.3 68.1 L330.2 67.8 L330.0 67.6 L329.8 67.3 L329.5 67.1 L329.1 66.8 L328.8 66.6 L328.3 66.3 L327.8 66.1 L327.3 65.8 L326.7 65.6 L326.1 65.4 L325.4 65.1 L324.7 64.9 L323.9 64.7 L323.1 64.5 L322.3 64.3 L321.4 64.0 L320.4 63.8 L319.5 63.6 L318.5 63.5 L317.4 63.3 L316.3 63.1 L315.2 62.9 L314.0 62.8 L312.8 62.6 L311.6 62.5 L310.4 62.3 L309.1 62.2 L307.8 62.1 L306.5 61.9 L305.1 61.8 L303.8 61.7 L302.4 61.6 L301.0 61.6 L299.5 61.5 L298.1 61.4 L296.7 61.4 L295.2 61.3M279.7 551.8 L278.9 551.7 L278.2 551.5 L277.5 551.2 L276.8 550.9 L276.1 550.5 L275.3 550.0 L274.6 549.4 L273.9 548.8 L273.2 548.1 L272.5 547.3 L271.8 546.4 L271.1 545.5 L270.5 544.4 L269.8 543.4 L269.1 542.2 L268.5 541.0 L267.8 539.7 L267.1 538.3 L266.5 536.9 L265.9 535.4 L265.2 533.8 L264.6 532.1 L264.0 530.4 L263.4 528.6 L262.8 526.8 L262.2 524.9 L261.6 522.9 L261.0 520.8 L260.4 518.7 L259.8 516.5 L259.3 514.3 L258.7 512.0 L258.2 509.6 L257.7 507.2 L257.1 504.7 L256.6 502.1 L256.1 499.5 L255.6 496.8 L255.2 494.1 L254.7 491.3 L254.2 488.5 L253.8 485.6 L253.3 482.6 L252.9 479.6 L252.5 476.5 L252.1 473.4 L251.7 470.3 L251.3 467.0 L250.9 463.8 L250.5 460.5 L250.2 457.1 L249.8 453.7 L249.5 450.3 L249.2 446.8 L248.9 443.2 L248.6 439.7 L248.3 436.0 L248.0 432.4 L247.8 428.7 L247.5 425.0 L247.3 421.2 L247.0 417.4 L246.8 413.6 L246.6 409.7 L246.5 405.8 L246.3 401.9 L246.1 397.9 L246.0 393.9 L245.8 389.9 L245.7 385.9 L245.6 381.8 L245.5 377.7 L245.4 373.6 L245.3 369.5 L245.3 365.3 L245.2 361.2 L245.2 357.0 L245.2 352.8 L245.2 348.6 L245.2 344.3 L245.2 340.1 L245.2 335.9 L245.3 331.6 L245.3 327.3 L245.4 323.1 L245.5 318.8 L245.6 314.5 L245.7 310.2 L245.8 306.0 L246.0 301.7 L246.1 297.4 L246.3 293.1 L246.5 288.9 L246.6 284.6 L246.8 280.3 L247.0 276.1 L247.3 271.8 L247.5 267.6 L247.8 263.4 L248.0 259.2 L248.3 255.0 L248.6 250.8 L248.9 246.6 L249.2 242.5 L249.5 238.4 L249.8 234.3 L250.2 230.2 L250.5 226.1 L250.9 222.1 L251.3 218.1 L251.7 214.1 L252.1 210.2 L252.5 206.3 L252.9 202.4 L253.3 198.5 L253.8 194.7 L254.2 190.9 L254.7 187.1 L255.2 183.4 L255.6 179.7 L256.1 176.1 L256.6 172.5 L257.1 168.9 L257.7 165.4 L258.2 161.9 L258.7 158.5 L259.3 155.1 L259.8 151.7 L260.4 148.4 L261.0 145.2 L261.6 142.0 L262.2 138.8 L262.8 135.8 L263.4 132.7 L264.0 129.7 L264.6 126.8 L265.2 123.9 L265.9 121.1 L266.5 118.3 L267.1 115.6 L267.8 112.9 L268.5 110.3 L269.1 107.8 L269.8 105.3 L270.5 102.9 L271.1 100.5 L271.8 98.2 L272.5 96.0 L273.2 93.9 L273.9 91.8 L274.6 89.7 L275.3 87.8 L276.1 85.9 L276.8 84.0 L277.5 82.3 L278.2 80.6 L278.9 78.9 L279.7 77.4 L280.4 75.9M461.6 479.8 L464.5 476.8 L467.4 473.8 L470.2 470.7 L472.9 467.6 L475.6 464.4 L478.2 461.2 L480.8 458.0 L483.3 454.6 L485.8 451.3 L488.2 447.9 L490.5 444.4 L492.7 440.9 L495.0 437.4 L497.1 433.8 L499.2 430.2 L501.2 426.6 L503.1 422.9 L505.0 419.2 L506.8 415.4 L508.6 411.7 L510.3 407.8 L511.9 404.0 L513.4 400.1 L514.9 396.2 L516.3 392.3 L517.6 388.3 L518.9 384.3 L520.1 380.3 L521.2 376.3 L522.3 372.2 L523.3 368.2 L524.2 364.1 L525.0 360.0 L525.8 355.9 L526.5 351.7 L527.1 347.6 L527.7 343.4 L528.1 339.2 L528.6 335.0 L528.9 330.8 L529.1 326.6 L529.3 322.4 L529.4 318.2 L529.5 314.0 L529.4 309.8 L529.3 305.6 L529.1 301.3 L528.9 297.1 L528.6 292.9 L528.1 288.7 L527.7 284.5 L527.1 280.3 L526.5 276.1 L525.8 271.9 L525.0 267.8 L524.2 263.6 L523.3 259.4 L522.3 255.3 L521.2 251.2 L520.1 247.1 L518.9 243.0 L517.6 239.0 L516.3 234.9 L514.9 230.9 L513.4 226.9 L511.9 222.9 L510.3 219.0 L508.6 215.1 L506.8 211.2 L505.0 207.3 L503.1 203.5 L501.2 199.7 L499.2 195.9 L497.1 192.2 L495.0 188.5 L492.7 184.8 L490.5 181.2 L488.2 177.6 L485.8 174.0 L483.3 170.5 L480.8 167.1 L478.2 163.6 L475.6 160.3 L472.9 156.9 L470.2 153.6 L467.4 150.4 L464.5 147.2 L461.6 144.0 L458.7 140.9 L455.7 137.9 L452.6 134.9 L449.5 132.0 L446.4 129.1 L443.1 126.2 L439.9 123.4 L436.6 120.7 L433.2 118.0 L429.9 115.4 L426.4 112.9 L422.9 110.4 L419.4 107.9 L415.9 105.6 L412.3 103.3 L408.6 101.0 L405.0 98.8 L401.3 96.7 L397.5 94.6 L393.7 92.6 L389.9 90.7 L386.1 88.8 L382.2 87.0 L378.3 85.3 L374.4 83.6 L370.5 82.0 L366.5 80.5 L362.5 79.0 L358.5 77.7 L354.4 76.3 L350.3 75.1 L346.3 73.9 L342.2 72.8 L338.0 71.7 L333.9 70.8 L329.8 69.9M116.9 130.5 L119.9 127.6 L123.0 124.8 L126.1 122.1 L129.2 119.4 L132.5 116.7 L135.7 114.1 L139.0 111.6 L142.4 109.1 L145.7 106.7 L149.2 104.4 L152.7 102.1 L156.2 99.9 L159.7 97.7 L163.3 95.6 L167.0 93.6 L170.6 91.6 L174.3 89.7 L178.1 87.9 L181.9 86.1 L185.7 84.4 L189.5 82.8 L193.4 81.2 L197.3 79.8 L201.2 78.3 L205.1 77.0 L209.1 75.7 L213.1 74.5 L217.1 73.3 L221.2 72.3 L225.3 71.2 L229.3 70.3 L233.4 69.5 L237.6 68.7 L241.7 68.0 L245.8 67.3" fill="none" stroke="#000" stroke-width="0.9" stroke-dasharray="2 2"/>
</g>
<circle cx="287.8" cy="306.6" r="245.4" fill="none" stroke="#000" stroke-width="1.1"/>
<circle cx="245.2" cy="348.6" r="5.1" fill="#fff" stroke="#000" stroke-width="2.8"/>
<rect x="64.0" y="562.0" width="447.0" height="24.8" fill="url(#cb)"/>
<path d="M64.5 562.0 L42.0 574.4 L64.5 586.8 Z" fill="#000"/>
<path d="M510.5 562.0 L533.5 574.4 L510.5 586.8 Z" fill="#fff"/>
<path d="M511.0 562.5 L533.5 574.4 L511.0 586.8" fill="none" stroke="#000" stroke-width="0.8"/>
<line x1="64.0" y1="562.5" x2="511.0" y2="562.5" stroke="#000" stroke-width="1"/>
<line x1="64.0" y1="586.8" x2="64.0" y2="589.0" stroke="#666" stroke-width="1"/>
<text x="64.0" y="604.4" text-anchor="middle" font-size="17.2">1450</text>
<line x1="175.8" y1="586.8" x2="175.8" y2="589.0" stroke="#666" stroke-width="1"/>
<text x="175.8" y="604.4" text-anchor="middle" font-size="17.2">1625</text>
<line x1="287.5" y1="586.8" x2="287.5" y2="589.0" stroke="#666" stroke-width="1"/>
<text x="287.5" y="604.4" text-anchor="middle" font-size="17.2">1800</text>
<line x1="399.2" y1="586.8" x2="399.2" y2="589.0" stroke="#666" stroke-width="1"/>
<text x="399.2" y="604.4" text-anchor="middle" font-size="17.2">1975</text>
<line x1="511.0" y1="586.8" x2="511.0" y2="589.0" stroke="#666" stroke-width="1"/>
<text x="511.0" y="604.4" text-anchor="middle" font-size="17.2">2150</text>
<text x="288.7" y="625" text-anchor="middle" font-size="19">Temperature [K]</text>
<text x="42.5" y="552.8" font-size="17.2">Day 49</text>
<clipPath id="clip1"><circle cx="798.2" cy="306.6" r="245.4"/></clipPath>
<g clip-path="url(#clip1)">
<circle cx="798.2" cy="306.6" r="247.4" fill="#c00000"/>
<path d="M800.0 50.0 C810.0 38.3 858.3 33.3 900.0 50.0 C941.7 66.7 1023.3 103.3 1050.0 150.0 C1076.7 196.7 1068.3 305.0 1060.0 330.0 C1051.7 355.0 1020.0 308.3 1000.0 300.0 C980.0 291.7 956.7 290.0 940.0 280.0 C923.3 270.0 911.7 256.7 900.0 240.0 C888.3 223.3 880.0 200.0 870.0 180.0 C860.0 160.0 851.7 141.7 840.0 120.0 C828.3 98.3 790.0 61.7 800.0 50.0Z" fill="#950000" filter="url(#b14)"/>
<path d="M540.0 120.0 C556.7 80.0 603.3 80.0 640.0 70.0 C676.7 60.0 733.3 60.0 760.0 60.0 C786.7 60.0 795.0 61.7 800.0 70.0 C805.0 78.3 795.0 96.7 790.0 110.0 C785.0 123.3 776.7 135.0 770.0 150.0 C763.3 165.0 755.8 186.7 750.0 200.0 C744.2 213.3 743.3 220.8 735.0 230.0 C726.7 239.2 714.2 247.5 700.0 255.0 C685.8 262.5 666.7 268.3 650.0 275.0 C633.3 281.7 618.3 289.2 600.0 295.0 C581.7 300.8 550.0 339.2 540.0 310.0 C530.0 280.8 523.3 160.0 540.0 120.0Z" fill="#ff2600" filter="url(#b12)"/>
<path d="M560.0 150.0 C570.3 130.0 600.0 109.2 620.0 100.0 C640.0 90.8 663.3 93.7 680.0 95.0 C696.7 96.3 706.7 103.0 720.0 108.0 C733.3 113.0 751.7 118.0 760.0 125.0 C768.3 132.0 770.3 140.0 770.0 150.0 C769.7 160.0 763.0 176.7 758.0 185.0 C753.0 193.3 747.2 193.3 740.0 200.0 C732.8 206.7 723.3 216.7 715.0 225.0 C706.7 233.3 700.8 242.8 690.0 250.0 C679.2 257.2 663.3 265.0 650.0 268.0 C636.7 271.0 622.5 270.2 610.0 268.0 C597.5 265.8 583.7 263.0 575.0 255.0 C566.3 247.0 560.5 237.5 558.0 220.0 C555.5 202.5 549.7 170.0 560.0 150.0Z" fill="#ff7700" filter="url(#b10)"/>
<path d="M718.0 118.0 C723.0 109.7 743.3 116.7 752.0 122.0 C760.7 127.3 768.0 139.0 770.0 150.0 C772.0 161.0 768.7 179.3 764.0 188.0 C759.3 196.7 749.0 204.7 742.0 202.0 C735.0 199.3 726.0 186.0 722.0 172.0 C718.0 158.0 713.0 126.3 718.0 118.0Z" fill="#ffa700" filter="url(#b10)"/>
<path d="M624.0 138.0 C631.0 130.5 642.8 120.8 652.0 115.0 C661.2 109.2 669.8 103.7 679.0 103.0 C688.2 102.3 699.2 107.0 707.0 111.0 C714.8 115.0 720.8 119.2 726.0 127.0 C731.2 134.8 738.0 150.2 738.0 158.0 C738.0 165.8 729.8 168.8 726.0 174.0 C722.2 179.2 719.5 183.2 715.0 189.0 C710.5 194.8 703.7 202.5 699.0 209.0 C694.3 215.5 691.0 222.2 687.0 228.0 C683.0 233.8 680.8 238.7 675.0 244.0 C669.2 249.3 660.3 256.0 652.0 260.0 C643.7 264.0 632.8 268.8 625.0 268.0 C617.2 267.2 610.8 260.5 605.0 255.0 C599.2 249.5 593.3 242.7 590.0 235.0 C586.7 227.3 584.5 217.3 585.0 209.0 C585.5 200.7 588.8 193.2 593.0 185.0 C597.2 176.8 604.8 167.8 610.0 160.0 C615.2 152.2 617.0 145.5 624.0 138.0Z" fill="#ffea00" filter="url(#b6)"/>
<path d="M632.0 128.0 C637.8 123.5 651.5 119.0 660.0 118.0 C668.5 117.0 678.0 116.7 683.0 122.0 C688.0 127.3 690.5 140.7 690.0 150.0 C689.5 159.3 683.7 170.0 680.0 178.0 C676.3 186.0 673.0 192.7 668.0 198.0 C663.0 203.3 655.5 210.0 650.0 210.0 C644.5 210.0 638.3 204.7 635.0 198.0 C631.7 191.3 631.7 178.8 630.0 170.0 C628.3 161.2 624.7 152.0 625.0 145.0 C625.3 138.0 626.2 132.5 632.0 128.0Z" fill="#ffff70" filter="url(#b8)"/>
<path d="M640.0 228.0 C645.3 223.3 656.0 218.7 662.0 220.0 C668.0 221.3 675.7 230.3 676.0 236.0 C676.3 241.7 669.7 250.0 664.0 254.0 C658.3 258.0 647.7 261.0 642.0 260.0 C636.3 259.0 630.3 253.3 630.0 248.0 C629.7 242.7 634.7 232.7 640.0 228.0Z" fill="#ffff45" filter="url(#b8)"/>
<path d="M735.0 52.0 C755.0 48.0 839.5 47.7 860.0 52.0 C880.5 56.3 866.3 72.7 858.0 78.0 C849.7 83.3 824.7 83.3 810.0 84.0 C795.3 84.7 781.7 83.3 770.0 82.0 C758.3 80.7 745.8 81.0 740.0 76.0 C734.2 71.0 715.0 56.0 735.0 52.0Z" fill="#8c0000" filter="url(#b8)"/>
<path d="M540.0 314.0 C548.2 308.5 574.3 308.2 589.0 303.0 C603.7 297.8 614.8 289.5 628.0 283.0 C641.2 276.5 654.8 270.5 668.0 264.0 C681.2 257.5 694.0 250.7 707.0 244.0 C720.0 237.3 734.7 229.7 746.0 224.0 C757.3 218.3 767.7 210.7 775.0 210.0 C782.3 209.3 790.0 214.7 790.0 220.0 C790.0 225.3 782.3 236.7 775.0 242.0 C767.7 247.3 757.3 246.5 746.0 252.0 C734.7 257.5 720.0 267.2 707.0 275.0 C694.0 282.8 681.2 291.8 668.0 299.0 C654.8 306.2 641.2 312.8 628.0 318.0 C614.8 323.2 603.7 327.0 589.0 330.0 C574.3 333.0 548.2 338.7 540.0 336.0 C531.8 333.3 531.8 319.5 540.0 314.0Z" fill="#9a0000" filter="url(#b6)"/>
<path d="M550.0 316.0 C556.5 314.0 576.0 309.2 589.0 304.0 C602.0 298.8 616.2 291.0 628.0 285.0 C639.8 279.0 654.7 270.8 660.0 268.0" fill="none" stroke="#570000" stroke-width="4" stroke-linecap="round" filter="url(#b3)"/>
<path d="M545.0 318.0 C552.3 313.7 575.2 312.7 589.0 308.0 C602.8 303.3 614.8 296.3 628.0 290.0 C641.2 283.7 654.8 276.7 668.0 270.0 C681.2 263.3 694.0 256.7 707.0 250.0 C720.0 243.3 733.8 235.7 746.0 230.0 C758.2 224.3 773.5 216.7 780.0 216.0 C786.5 215.3 790.7 220.7 785.0 226.0 C779.3 231.3 759.0 240.7 746.0 248.0 C733.0 255.3 720.0 262.3 707.0 270.0 C694.0 277.7 681.2 286.7 668.0 294.0 C654.8 301.3 641.2 308.3 628.0 314.0 C614.8 319.7 602.8 324.7 589.0 328.0 C575.2 331.3 552.3 335.7 545.0 334.0 C537.7 332.3 537.7 322.3 545.0 318.0Z" fill="#fa0000" filter="url(#gA)"/>
<path d="M550.0 305.0 C557.5 298.3 583.3 299.2 600.0 300.0 C616.7 300.8 643.3 305.0 650.0 310.0 C656.7 315.0 648.3 325.0 640.0 330.0 C631.7 335.0 614.2 338.3 600.0 340.0 C585.8 341.7 563.3 345.8 555.0 340.0 C546.7 334.2 542.5 311.7 550.0 305.0Z" fill="#e70000" filter="url(#gC)"/>
<path d="M783.0 74.0 C788.8 75.3 789.2 73.8 795.0 78.0 C800.8 82.2 811.5 91.5 818.0 99.0 C824.5 106.5 828.7 113.8 834.0 123.0 C839.3 132.2 844.8 143.7 850.0 154.0 C855.2 164.3 859.8 174.5 865.0 185.0 C870.2 195.5 876.3 206.5 881.0 217.0 C885.7 227.5 889.8 237.7 893.0 248.0 C896.2 258.3 899.2 268.7 900.0 279.0 C900.8 289.3 899.7 299.8 898.0 310.0 C896.3 320.2 893.0 330.8 890.0 340.0 C887.0 349.2 886.7 358.3 880.0 365.0 C873.3 371.7 858.3 379.2 850.0 380.0 C841.7 380.8 836.3 376.7 830.0 370.0 C823.7 363.3 816.2 348.3 812.0 340.0 C807.8 331.7 806.5 334.0 805.0 320.0 C803.5 306.0 804.7 273.2 803.0 256.0 C801.3 238.8 798.3 230.0 795.0 217.0 C791.7 204.0 786.3 191.2 783.0 178.0 C779.7 164.8 778.2 151.2 775.0 138.0 C771.8 124.8 766.5 110.3 764.0 99.0 C761.5 87.7 756.8 74.2 760.0 70.0 C763.2 65.8 777.2 72.7 783.0 74.0Z" fill="#ff7700" filter="url(#b10)"/>
<path d="M805.0 230.0 C809.7 220.0 829.2 228.3 840.0 240.0 C850.8 251.7 863.3 283.3 870.0 300.0 C876.7 316.7 883.3 330.0 880.0 340.0 C876.7 350.0 859.2 358.3 850.0 360.0 C840.8 361.7 831.3 360.0 825.0 350.0 C818.7 340.0 815.3 320.0 812.0 300.0 C808.7 280.0 800.3 240.0 805.0 230.0Z" fill="#ffa700" filter="url(#b10)"/>
<path d="M778.0 86.0 C783.3 83.7 791.3 78.7 800.0 86.0 C808.7 93.3 820.0 112.7 830.0 130.0 C840.0 147.3 850.8 171.7 860.0 190.0 C869.2 208.3 879.2 223.3 885.0 240.0 C890.8 256.7 894.2 275.0 895.0 290.0 C895.8 305.0 894.2 320.0 890.0 330.0 C885.8 340.0 880.0 348.3 870.0 350.0 C860.0 351.7 839.7 348.3 830.0 340.0 C820.3 331.7 816.5 315.0 812.0 300.0 C807.5 285.0 806.7 266.7 803.0 250.0 C799.3 233.3 794.2 216.7 790.0 200.0 C785.8 183.3 781.7 166.7 778.0 150.0 C774.3 133.3 768.0 110.7 768.0 100.0 C768.0 89.3 772.7 88.3 778.0 86.0Z" fill="#ffe000" filter="url(#gB)"/>
<path d="M840.0 150.0 C841.3 143.3 851.3 140.0 858.0 150.0 C864.7 160.0 873.3 191.7 880.0 210.0 C886.7 228.3 893.8 245.0 898.0 260.0 C902.2 275.0 906.3 293.3 905.0 300.0 C903.7 306.7 895.8 310.0 890.0 300.0 C884.2 290.0 876.7 258.3 870.0 240.0 C863.3 221.7 855.0 205.0 850.0 190.0 C845.0 175.0 838.7 156.7 840.0 150.0Z" fill="#f00000" filter="url(#gD)"/>
<path d="M740.0 260.0 C755.0 243.3 779.2 223.3 790.0 230.0 C800.8 236.7 801.3 281.7 805.0 300.0 C808.7 318.3 816.2 331.7 812.0 340.0 C807.8 348.3 792.0 349.2 780.0 350.0 C768.0 350.8 753.3 348.3 740.0 345.0 C726.7 341.7 700.0 344.2 700.0 330.0 C700.0 315.8 725.0 276.7 740.0 260.0Z" fill="#bc0000" filter="url(#b10)"/>
<path d="M540.0 330.0 C550.0 318.3 580.0 333.3 600.0 330.0 C620.0 326.7 640.0 316.7 660.0 310.0 C680.0 303.3 706.7 286.7 720.0 290.0 C733.3 293.3 739.2 316.3 740.0 330.0 C740.8 343.7 735.0 362.8 725.0 372.0 C715.0 381.2 694.2 381.7 680.0 385.0 C665.8 388.3 653.3 390.3 640.0 392.0 C626.7 393.7 613.3 393.7 600.0 395.0 C586.7 396.3 570.0 399.2 560.0 400.0 C550.0 400.8 543.3 411.7 540.0 400.0 C536.7 388.3 530.0 341.7 540.0 330.0Z" fill="#9a0000" filter="url(#b10)"/>
<path d="M590.0 400.0 C598.7 395.3 621.7 395.3 640.0 392.0 C658.3 388.7 685.0 379.5 700.0 380.0 C715.0 380.5 724.2 385.0 730.0 395.0 C735.8 405.0 741.7 429.5 735.0 440.0 C728.3 450.5 705.8 455.5 690.0 458.0 C674.2 460.5 655.0 457.2 640.0 455.0 C625.0 452.8 608.7 450.8 600.0 445.0 C591.3 439.2 589.7 427.5 588.0 420.0 C586.3 412.5 581.3 404.7 590.0 400.0Z" fill="#df0000" filter="url(#b10)"/>
<path d="M640.0 410.0 C644.2 408.3 656.7 400.0 665.0 400.0 C673.3 400.0 685.0 405.0 690.0 410.0 C695.0 415.0 698.3 425.0 695.0 430.0 C691.7 435.0 674.2 438.3 670.0 440.0" fill="none" stroke="#ff2100" stroke-width="10" stroke-linecap="round" filter="url(#b8)"/>
<path d="M640.0 405.0 C643.3 403.3 653.3 395.8 660.0 395.0 C666.7 394.2 675.0 395.8 680.0 400.0 C685.0 404.2 690.8 414.2 690.0 420.0 C689.2 425.8 681.7 433.3 675.0 435.0 C668.3 436.7 654.2 430.8 650.0 430.0" fill="none" stroke="#ff0400" stroke-width="6" stroke-linecap="round" filter="url(#b5)"/>
<path d="M740.0 365.0 C752.5 357.5 775.0 355.8 790.0 355.0 C805.0 354.2 820.0 352.5 830.0 360.0 C840.0 367.5 848.3 385.0 850.0 400.0 C851.7 415.0 848.3 439.2 840.0 450.0 C831.7 460.8 813.3 463.3 800.0 465.0 C786.7 466.7 772.5 464.2 760.0 460.0 C747.5 455.8 732.5 450.0 725.0 440.0 C717.5 430.0 712.5 412.5 715.0 400.0 C717.5 387.5 727.5 372.5 740.0 365.0Z" fill="#ff7700" filter="url(#b12)"/>
<path d="M610.0 440.0 C626.7 435.0 678.3 435.0 700.0 440.0 C721.7 445.0 736.7 463.3 740.0 470.0 C743.3 476.7 736.7 478.3 720.0 480.0 C703.3 481.7 660.0 481.7 640.0 480.0 C620.0 478.3 605.0 476.7 600.0 470.0 C595.0 463.3 593.3 445.0 610.0 440.0Z" fill="#ff3400" filter="url(#b10)"/>
<path d="M815.0 440.0 C825.8 433.3 856.7 440.0 870.0 445.0 C883.3 450.0 892.5 460.0 895.0 470.0 C897.5 480.0 894.2 498.3 885.0 505.0 C875.8 511.7 853.3 513.3 840.0 510.0 C826.7 506.7 809.2 496.7 805.0 485.0 C800.8 473.3 804.2 446.7 815.0 440.0Z" fill="#ff3400" filter="url(#b10)"/>
<path d="M780.0 405.0 C785.0 395.0 805.8 395.8 815.0 400.0 C824.2 404.2 832.5 418.3 835.0 430.0 C837.5 441.7 834.2 461.7 830.0 470.0 C825.8 478.3 817.5 481.7 810.0 480.0 C802.5 478.3 790.0 472.5 785.0 460.0 C780.0 447.5 775.0 415.0 780.0 405.0Z" fill="#ff9d00" filter="url(#b10)"/>
<path d="M628.0 478.0 C633.8 474.0 646.0 473.2 655.0 471.0 C664.0 468.8 672.8 467.5 682.0 465.0 C691.2 462.5 699.5 460.2 710.0 456.0 C720.5 451.8 733.3 446.0 745.0 440.0 C756.7 434.0 770.8 420.8 780.0 420.0 C789.2 419.2 795.8 426.7 800.0 435.0 C804.2 443.3 805.8 458.3 805.0 470.0 C804.2 481.7 800.0 495.0 795.0 505.0 C790.0 515.0 782.5 523.3 775.0 530.0 C767.5 536.7 759.2 542.5 750.0 545.0 C740.8 547.5 731.7 547.5 720.0 545.0 C708.3 542.5 693.3 535.0 680.0 530.0 C666.7 525.0 650.0 520.8 640.0 515.0 C630.0 509.2 622.0 501.2 620.0 495.0 C618.0 488.8 622.2 482.0 628.0 478.0Z" fill="#ffe500" filter="url(#b10)"/>
<path d="M655.0 485.0 C663.7 481.3 686.7 477.5 700.0 478.0 C713.3 478.5 730.0 482.3 735.0 488.0 C740.0 493.7 735.8 505.8 730.0 512.0 C724.2 518.2 710.8 524.0 700.0 525.0 C689.2 526.0 673.7 522.2 665.0 518.0 C656.3 513.8 649.7 505.5 648.0 500.0 C646.3 494.5 646.3 488.7 655.0 485.0Z" fill="#ffff36" filter="url(#b8)"/>
<path d="M880.0 290.0 C884.2 278.8 899.2 288.3 910.0 295.0 C920.8 301.7 937.5 317.8 945.0 330.0 C952.5 342.2 960.0 360.5 955.0 368.0 C950.0 375.5 926.7 376.0 915.0 375.0 C903.3 374.0 890.8 376.2 885.0 362.0 C879.2 347.8 875.8 301.2 880.0 290.0Z" fill="#eb0000" filter="url(#b10)"/>
<path d="M845.0 362.0 C851.7 356.7 867.5 365.3 880.0 368.0 C892.5 370.7 906.7 373.5 920.0 378.0 C933.3 382.5 948.3 388.0 960.0 395.0 C971.7 402.0 984.2 411.7 990.0 420.0 C995.8 428.3 1000.0 439.2 995.0 445.0 C990.0 450.8 975.8 453.8 960.0 455.0 C944.2 456.2 916.7 454.5 900.0 452.0 C883.3 449.5 870.0 448.7 860.0 440.0 C850.0 431.3 842.5 413.0 840.0 400.0 C837.5 387.0 838.3 367.3 845.0 362.0Z" fill="#ff4c00" filter="url(#b10)"/>
<path d="M835.0 330.0 C841.7 322.5 862.5 326.7 870.0 335.0 C877.5 343.3 880.0 365.8 880.0 380.0 C880.0 394.2 875.8 413.3 870.0 420.0 C864.2 426.7 851.7 426.7 845.0 420.0 C838.3 413.3 831.7 395.0 830.0 380.0 C828.3 365.0 828.3 337.5 835.0 330.0Z" fill="#ff9400" filter="url(#b10)"/>
<path d="M850.0 368.0 C857.5 364.2 877.5 369.7 890.0 372.0 C902.5 374.3 913.0 377.3 925.0 382.0 C937.0 386.7 952.0 392.8 962.0 400.0 C972.0 407.2 982.8 417.3 985.0 425.0 C987.2 432.7 982.5 441.8 975.0 446.0 C967.5 450.2 954.2 450.2 940.0 450.0 C925.8 449.8 903.7 449.2 890.0 445.0 C876.3 440.8 865.5 433.3 858.0 425.0 C850.5 416.7 846.3 404.5 845.0 395.0 C843.7 385.5 842.5 371.8 850.0 368.0Z" fill="#ffd700" filter="url(#gE)"/>
<path d="M930.0 380.0 C937.5 373.3 964.2 390.0 975.0 400.0 C985.8 410.0 997.5 430.8 995.0 440.0 C992.5 449.2 970.8 455.0 960.0 455.0 C949.2 455.0 935.0 452.5 930.0 440.0 C925.0 427.5 922.5 386.7 930.0 380.0Z" fill="#f00000" filter="url(#gA)"/>
<path d="M940.0 375.0 C946.7 366.7 984.2 372.5 1000.0 375.0 C1015.8 377.5 1030.0 379.2 1035.0 390.0 C1040.0 400.8 1035.8 430.3 1030.0 440.0 C1024.2 449.7 1011.7 450.5 1000.0 448.0 C988.3 445.5 970.0 437.2 960.0 425.0 C950.0 412.8 933.3 383.3 940.0 375.0Z" fill="#e70000" filter="url(#b10)"/>
<path d="M858.0 68.0 C864.5 69.8 879.3 84.5 889.0 91.0 C898.7 97.5 908.2 101.0 916.0 107.0 C923.8 113.0 930.0 119.8 936.0 127.0 C942.0 134.2 946.8 142.2 952.0 150.0 C957.2 157.8 961.8 166.2 967.0 174.0 C972.2 181.8 977.5 190.2 983.0 197.0 C988.5 203.8 993.5 209.2 1000.0 215.0 C1006.5 220.8 1016.7 227.2 1022.0 232.0 C1027.3 236.8 1029.0 236.0 1032.0 244.0 C1035.0 252.0 1041.2 278.2 1040.0 280.0 C1038.8 281.8 1031.7 262.0 1025.0 255.0 C1018.3 248.0 1007.8 243.5 1000.0 238.0 C992.2 232.5 985.0 228.3 978.0 222.0 C971.0 215.7 965.2 207.8 958.0 200.0 C950.8 192.2 942.7 184.2 935.0 175.0 C927.3 165.8 919.5 154.2 912.0 145.0 C904.5 135.8 897.3 127.5 890.0 120.0 C882.7 112.5 874.7 106.7 868.0 100.0 C861.3 93.3 851.7 85.3 850.0 80.0 C848.3 74.7 851.5 66.2 858.0 68.0Z" fill="#490000" filter="url(#b6)"/>
<path d="M900.0 290.0 C910.0 286.7 936.7 297.5 960.0 300.0 C983.3 302.5 1025.8 298.3 1040.0 305.0 C1054.2 311.7 1053.3 335.0 1045.0 340.0 C1036.7 345.0 1009.2 336.7 990.0 335.0 C970.8 333.3 945.0 332.5 930.0 330.0 C915.0 327.5 905.0 326.7 900.0 320.0 C895.0 313.3 890.0 293.3 900.0 290.0Z" fill="#820000" filter="url(#b10)"/>
<path d="M945.0 345.0 C948.3 340.8 960.8 337.0 970.0 335.0 C979.2 333.0 990.0 332.5 1000.0 333.0 C1010.0 333.5 1023.3 334.8 1030.0 338.0 C1036.7 341.2 1040.0 346.7 1040.0 352.0 C1040.0 357.3 1036.7 366.5 1030.0 370.0 C1023.3 373.5 1010.0 373.3 1000.0 373.0 C990.0 372.7 978.3 370.2 970.0 368.0 C961.7 365.8 954.2 363.8 950.0 360.0 C945.8 356.2 941.7 349.2 945.0 345.0Z" fill="#3f0000" filter="url(#b5)"/>
<path d="M860.0 460.0 C880.0 452.5 916.7 465.8 940.0 465.0 C963.3 464.2 983.3 459.2 1000.0 455.0 C1016.7 450.8 1036.7 429.2 1040.0 440.0 C1043.3 450.8 1043.3 500.0 1020.0 520.0 C996.7 540.0 936.7 553.3 900.0 560.0 C863.3 566.7 813.3 568.3 800.0 560.0 C786.7 551.7 810.0 526.7 820.0 510.0 C830.0 493.3 840.0 467.5 860.0 460.0Z" fill="#ca0000" filter="url(#b10)"/>
<path d="M889.0 462.0 C895.8 463.0 918.2 467.3 930.0 468.0 C941.8 468.7 950.0 467.7 960.0 466.0 C970.0 464.3 985.0 459.3 990.0 458.0" fill="none" stroke="#900000" stroke-width="10" stroke-linecap="round" filter="url(#b6)"/>
<path d="M760.0 545.0 C770.0 538.3 800.0 523.3 820.0 520.0 C840.0 516.7 866.7 518.3 880.0 525.0 C893.3 531.7 920.0 554.2 900.0 560.0 C880.0 565.8 783.3 562.5 760.0 560.0 C736.7 557.5 750.0 551.7 760.0 545.0Z" fill="#820000" filter="url(#b8)"/>
<path d="M540.0 340.0 C544.2 317.5 558.3 335.0 565.0 345.0 C571.7 355.0 575.5 384.2 580.0 400.0 C584.5 415.8 588.7 428.3 592.0 440.0 C595.3 451.7 602.0 460.0 600.0 470.0 C598.0 480.0 590.0 498.3 580.0 500.0 C570.0 501.7 546.7 506.7 540.0 480.0 C533.3 453.3 535.8 362.5 540.0 340.0Z" fill="#950000" filter="url(#b10)"/>
<path d="M681.5 522.5 L682.9 523.2 L684.4 523.9 L686.1 524.6 L687.9 525.2 L689.9 525.9 L691.9 526.5 L694.1 527.2 L696.5 527.8 L698.9 528.4 L701.5 529.0 L704.2 529.6 L707.0 530.2 L709.9 530.7 L713.0 531.2 L716.1 531.7 L719.3 532.2 L722.7 532.7 L726.1 533.1 L729.6 533.6 L733.2 534.0 L736.9 534.3 L740.6 534.7 L744.4 535.0 L748.3 535.4 L752.2 535.6 L756.2 535.9 L760.3 536.2 L764.4 536.4 L768.5 536.6 L772.7 536.7 L776.9 536.9 L781.1 537.0 L785.4 537.1 L789.6 537.1 L793.9 537.2 L798.2 537.2 L802.5 537.2 L806.8 537.1 L811.0 537.1 L815.3 537.0 L819.5 536.9 L823.7 536.7 L827.9 536.6 L832.0 536.4 L836.1 536.2 L840.2 535.9 L844.2 535.6 L848.1 535.4 L852.0 535.0 L855.8 534.7 L859.6 534.3 L863.2 534.0 L866.8 533.6 L870.3 533.1 L873.7 532.7 L877.1 532.2 L880.3 531.7 L883.4 531.2 L886.5 530.7 L889.4 530.2 L892.2 529.6 L894.9 529.0 L897.5 528.4 L899.9 527.8 L902.3 527.2 L904.5 526.5 L906.5 525.9 L908.5 525.2 L910.3 524.6 L912.0 523.9 L913.5 523.2 L914.9 522.5M586.8 431.3 L587.7 432.6 L588.9 433.8 L590.3 435.1 L592.0 436.4 L593.9 437.6 L596.1 438.8 L598.5 440.1 L601.2 441.3 L604.1 442.4 L607.2 443.6 L610.6 444.8 L614.2 445.9 L618.0 447.0 L622.0 448.1 L626.3 449.1 L630.7 450.2 L635.4 451.2 L640.3 452.1 L645.3 453.1 L650.6 454.0 L656.0 454.9 L661.6 455.7 L667.4 456.5 L673.3 457.3 L679.4 458.0 L685.6 458.7 L691.9 459.4 L698.4 460.0 L705.0 460.6 L711.8 461.1 L718.6 461.7 L725.5 462.1 L732.5 462.5 L739.6 462.9 L746.8 463.2 L754.0 463.5 L761.3 463.8 L768.6 464.0 L776.0 464.1 L783.4 464.3 L790.8 464.3 L798.2 464.3 L805.6 464.3 L813.0 464.3 L820.4 464.1 L827.8 464.0 L835.1 463.8 L842.4 463.5 L849.6 463.2 L856.8 462.9 L863.9 462.5 L870.9 462.1 L877.8 461.7 L884.6 461.1 L891.4 460.6 L898.0 460.0 L904.5 459.4 L910.8 458.7 L917.0 458.0 L923.1 457.3 L929.0 456.5 L934.8 455.7 L940.4 454.9 L945.8 454.0 L951.1 453.1 L956.1 452.1 L961.0 451.2 L965.7 450.2 L970.1 449.1 L974.4 448.1 L978.4 447.0 L982.2 445.9 L985.8 444.8 L989.2 443.6 L992.3 442.4 L995.2 441.3 L997.9 440.1 L1000.3 438.8 L1002.5 437.6 L1004.4 436.4 L1006.1 435.1 L1007.5 433.8 L1008.7 432.6 L1009.6 431.3M552.8 306.6 L552.9 308.1 L553.4 309.6 L554.1 311.1 L555.2 312.5 L556.5 314.0 L558.2 315.5 L560.1 316.9 L562.3 318.3 L564.8 319.8 L567.6 321.2 L570.7 322.6 L574.0 323.9 L577.6 325.3 L581.5 326.6 L585.7 327.9 L590.1 329.2 L594.8 330.4 L599.7 331.6 L604.8 332.8 L610.2 334.0 L615.8 335.1 L621.7 336.2 L627.7 337.3 L634.0 338.3 L640.5 339.2 L647.1 340.2 L654.0 341.1 L661.0 341.9 L668.2 342.7 L675.5 343.5 L683.0 344.2 L690.6 344.9 L698.4 345.5 L706.3 346.1 L714.3 346.6 L722.4 347.1 L730.6 347.6 L738.8 347.9 L747.2 348.3 L755.6 348.6 L764.0 348.8 L772.5 349.0 L781.1 349.1 L789.6 349.2 L798.2 349.2 L806.8 349.2 L815.3 349.1 L823.9 349.0 L832.4 348.8 L840.8 348.6 L849.2 348.3 L857.6 347.9 L865.8 347.6 L874.0 347.1 L882.1 346.6 L890.1 346.1 L898.0 345.5 L905.8 344.9 L913.4 344.2 L920.9 343.5 L928.2 342.7 L935.4 341.9 L942.4 341.1 L949.3 340.2 L955.9 339.2 L962.4 338.3 L968.7 337.3 L974.7 336.2 L980.6 335.1 L986.2 334.0 L991.6 332.8 L996.7 331.6 L1001.6 330.4 L1006.3 329.2 L1010.7 327.9 L1014.9 326.6 L1018.8 325.3 L1022.4 323.9 L1025.7 322.6 L1028.8 321.2 L1031.6 319.8 L1034.1 318.3 L1036.3 316.9 L1038.2 315.5 L1039.9 314.0 L1041.2 312.5 L1042.3 311.1 L1043.0 309.6 L1043.5 308.1 L1043.6 306.6M586.2 183.2 L585.8 184.5 L585.7 185.8 L585.8 187.1 L586.2 188.3 L586.8 189.6 L587.7 190.9 L588.9 192.2 L590.3 193.4 L592.0 194.7 L593.9 195.9 L596.1 197.2 L598.5 198.4 L601.2 199.6 L604.1 200.8 L607.2 201.9 L610.6 203.1 L614.2 204.2 L618.0 205.3 L622.0 206.4 L626.3 207.5 L630.7 208.5 L635.4 209.5 L640.3 210.5 L645.3 211.4 L650.6 212.3 L656.0 213.2 L661.6 214.0 L667.4 214.8 L673.3 215.6 L679.4 216.4 L685.6 217.1 L691.9 217.7 L698.4 218.3 L705.0 218.9 L711.8 219.5 L718.6 220.0 L725.5 220.4 L732.5 220.9 L739.6 221.2 L746.8 221.6 L754.0 221.9 L761.3 222.1 L768.6 222.3 L776.0 222.5 L783.4 222.6 L790.8 222.6 L798.2 222.7 L805.6 222.6 L813.0 222.6 L820.4 222.5 L827.8 222.3 L835.1 222.1 L842.4 221.9 L849.6 221.6 L856.8 221.2 L863.9 220.9 L870.9 220.4 L877.8 220.0 L884.6 219.5 L891.4 218.9 L898.0 218.3 L904.5 217.7 L910.8 217.1 L917.0 216.4 L923.1 215.6 L929.0 214.8 L934.8 214.0 L940.4 213.2 L945.8 212.3 L951.1 211.4 L956.1 210.5 L961.0 209.5 L965.7 208.5 L970.1 207.5 L974.4 206.4 L978.4 205.3 L982.2 204.2 L985.8 203.1 L989.2 201.9 L992.3 200.8 L995.2 199.6 L997.9 198.4 L1000.3 197.2 L1002.5 195.9 L1004.4 194.7 L1006.1 193.4 L1007.5 192.2 L1008.7 190.9 L1009.6 189.6 L1010.2 188.3 L1010.6 187.1 L1010.7 185.8 L1010.6 184.5 L1010.2 183.2M680.3 91.4 L679.1 92.2 L678.2 92.9 L677.4 93.6 L676.7 94.3 L676.2 95.1 L675.8 95.8 L675.6 96.6 L675.5 97.3 L675.6 98.0 L675.8 98.8 L676.2 99.5 L676.7 100.3 L677.4 101.0 L678.2 101.7 L679.1 102.5 L680.3 103.2 L681.5 103.9 L682.9 104.6 L684.4 105.3 L686.1 106.0 L687.9 106.6 L689.9 107.3 L691.9 108.0 L694.1 108.6 L696.5 109.2 L698.9 109.8 L701.5 110.4 L704.2 111.0 L707.0 111.6 L709.9 112.1 L713.0 112.6 L716.1 113.1 L719.3 113.6 L722.7 114.1 L726.1 114.5 L729.6 115.0 L733.2 115.4 L736.9 115.8 L740.6 116.1 L744.4 116.5 L748.3 116.8 L752.2 117.1 L756.2 117.3 L760.3 117.6 L764.4 117.8 L768.5 118.0 L772.7 118.1 L776.9 118.3 L781.1 118.4 L785.4 118.5 L789.6 118.6 L793.9 118.6 L798.2 118.6 L802.5 118.6 L806.8 118.6 L811.0 118.5 L815.3 118.4 L819.5 118.3 L823.7 118.1 L827.9 118.0 L832.0 117.8 L836.1 117.6 L840.2 117.3 L844.2 117.1 L848.1 116.8 L852.0 116.5 L855.8 116.1 L859.6 115.8 L863.2 115.4 L866.8 115.0 L870.3 114.5 L873.7 114.1 L877.1 113.6 L880.3 113.1 L883.4 112.6 L886.5 112.1 L889.4 111.6 L892.2 111.0 L894.9 110.4 L897.5 109.8 L899.9 109.2 L902.3 108.6 L904.5 108.0 L906.5 107.3 L908.5 106.6 L910.3 106.0 L912.0 105.3 L913.5 104.6 L914.9 103.9 L916.1 103.2 L917.3 102.5 L918.2 101.7 L919.0 101.0 L919.7 100.3 L920.2 99.5 L920.6 98.8 L920.8 98.0 L920.9 97.3 L920.8 96.6 L920.6 95.8 L920.2 95.1 L919.7 94.3 L919.0 93.6 L918.2 92.9 L917.3 92.2 L916.1 91.4M805.6 61.3 L804.1 61.3 L802.7 61.2 L801.2 61.2 L799.7 61.2M796.7 61.2 L795.2 61.2 L793.7 61.2 L792.3 61.3 L790.8 61.3 L789.3 61.4 L787.9 61.4 L786.5 61.5 L785.0 61.6 L783.6 61.6 L782.2 61.7 L780.9 61.8 L779.5 61.9 L778.2 62.1 L776.9 62.2 L775.6 62.3 L774.4 62.5 L773.2 62.6 L772.0 62.8 L770.8 62.9 L769.7 63.1 L768.6 63.3 L767.5 63.5 L766.5 63.6 L765.6 63.8 L764.6 64.0 L763.7 64.3 L762.9 64.5 L762.1 64.7 L761.3 64.9 L760.6 65.1 L759.9 65.4 L759.3 65.6 L758.7 65.8 L758.2 66.1 L757.7 66.3 L757.2 66.6 L756.9 66.8 L756.5 67.1 L756.2 67.3 L756.0 67.6 L755.8 67.8 L755.7 68.1 L755.6 68.3 L755.6 68.6 L755.6 68.9 L755.7 69.1 L755.8 69.4 L756.0 69.6 L756.2 69.9 L756.5 70.1 L756.9 70.4 L757.2 70.6 L757.7 70.9 L758.2 71.1 L758.7 71.4 L759.3 71.6 L759.9 71.8 L760.6 72.1 L761.3 72.3 L762.1 72.5 L762.9 72.7 L763.7 72.9 L764.6 73.2 L765.6 73.4 L766.5 73.6 L767.5 73.7 L768.6 73.9 L769.7 74.1 L770.8 74.3 L772.0 74.4 L773.2 74.6 L774.4 74.7 L775.6 74.9 L776.9 75.0 L778.2 75.1 L779.5 75.3 L780.9 75.4 L782.2 75.5 L783.6 75.6 L785.0 75.6 L786.5 75.7 L787.9 75.8 L789.3 75.8 L790.8 75.9 L792.3 75.9 L793.7 76.0 L795.2 76.0 L796.7 76.0 L798.2 76.0 L799.7 76.0 L801.2 76.0 L802.7 76.0 L804.1 75.9 L805.6 75.9 L807.1 75.8 L808.5 75.8 L809.9 75.7 L811.4 75.6 L812.8 75.6 L814.2 75.5 L815.5 75.4 L816.9 75.3 L818.2 75.1 L819.5 75.0 L820.8 74.9 L822.0 74.7 L823.2 74.6 L824.4 74.4 L825.6 74.3 L826.7 74.1 L827.8 73.9 L828.9 73.7 L829.9 73.6 L830.8 73.4 L831.8 73.2 L832.7 72.9 L833.5 72.7 L834.3 72.5 L835.1 72.3 L835.8 72.1 L836.5 71.8 L837.1 71.6 L837.7 71.4 L838.2 71.1 L838.7 70.9 L839.2 70.6 L839.5 70.4 L839.9 70.1 L840.2 69.9 L840.4 69.6 L840.6 69.4 L840.7 69.1 L840.8 68.9 L840.8 68.6 L840.8 68.3 L840.7 68.1 L840.6 67.8 L840.4 67.6 L840.2 67.3 L839.9 67.1 L839.5 66.8 L839.2 66.6 L838.7 66.3 L838.2 66.1 L837.7 65.8 L837.1 65.6 L836.5 65.4 L835.8 65.1 L835.1 64.9 L834.3 64.7 L833.5 64.5 L832.7 64.3 L831.8 64.0 L830.8 63.8 L829.9 63.6 L828.9 63.5 L827.8 63.3 L826.7 63.1 L825.6 62.9 L824.4 62.8 L823.2 62.6 L822.0 62.5 L820.8 62.3 L819.5 62.2 L818.2 62.1 L816.9 61.9 L815.5 61.8 L814.2 61.7 L812.8 61.6 L811.4 61.6 L809.9 61.5 L808.5 61.4 L807.1 61.4 L805.6 61.3M790.1 551.8 L789.3 551.7 L788.6 551.5 L787.9 551.2 L787.2 550.9 L786.5 550.5 L785.7 550.0 L785.0 549.4 L784.3 548.8 L783.6 548.1 L782.9 547.3 L782.2 546.4 L781.5 545.5 L780.9 544.4 L780.2 543.4 L779.5 542.2 L778.9 541.0 L778.2 539.7 L777.5 538.3 L776.9 536.9 L776.3 535.4 L775.6 533.8 L775.0 532.1 L774.4 530.4 L773.8 528.6 L773.2 526.8 L772.6 524.9 L772.0 522.9 L771.4 520.8 L770.8 518.7 L770.2 516.5 L769.7 514.3 L769.1 512.0 L768.6 509.6 L768.1 507.2 L767.5 504.7 L767.0 502.1 L766.5 499.5 L766.0 496.8 L765.6 494.1 L765.1 491.3 L764.6 488.5 L764.2 485.6 L763.7 482.6 L763.3 479.6 L762.9 476.5 L762.5 473.4 L762.1 470.3 L761.7 467.0 L761.3 463.8 L760.9 460.5 L760.6 457.1 L760.2 453.7 L759.9 450.3 L759.6 446.8 L759.3 443.2 L759.0 439.7 L758.7 436.0 L758.4 432.4 L758.2 428.7 L757.9 425.0 L757.7 421.2 L757.4 417.4 L757.2 413.6 L757.0 409.7 L756.9 405.8 L756.7 401.9 L756.5 397.9 L756.4 393.9 L756.2 389.9 L756.1 385.9 L756.0 381.8 L755.9 377.7 L755.8 373.6 L755.7 369.5 L755.7 365.3 L755.6 361.2 L755.6 357.0 L755.6 352.8 L755.6 348.6 L755.6 344.3 L755.6 340.1 L755.6 335.9 L755.7 331.6 L755.7 327.3 L755.8 323.1 L755.9 318.8 L756.0 314.5 L756.1 310.2 L756.2 306.0 L756.4 301.7 L756.5 297.4 L756.7 293.1 L756.9 288.9 L757.0 284.6 L757.2 280.3 L757.4 276.1 L757.7 271.8 L757.9 267.6 L758.2 263.4 L758.4 259.2 L758.7 255.0 L759.0 250.8 L759.3 246.6 L759.6 242.5 L759.9 238.4 L760.2 234.3 L760.6 230.2 L760.9 226.1 L761.3 222.1 L761.7 218.1 L762.1 214.1 L762.5 210.2 L762.9 206.3 L763.3 202.4 L763.7 198.5 L764.2 194.7 L764.6 190.9 L765.1 187.1 L765.6 183.4 L766.0 179.7 L766.5 176.1 L767.0 172.5 L767.5 168.9 L768.1 165.4 L768.6 161.9 L769.1 158.5 L769.7 155.1 L770.2 151.7 L770.8 148.4 L771.4 145.2 L772.0 142.0 L772.6 138.8 L773.2 135.8 L773.8 132.7 L774.4 129.7 L775.0 126.8 L775.6 123.9 L776.3 121.1 L776.9 118.3 L777.5 115.6 L778.2 112.9 L778.9 110.3 L779.5 107.8 L780.2 105.3 L780.9 102.9 L781.5 100.5 L782.2 98.2 L782.9 96.0 L783.6 93.9 L784.3 91.8 L785.0 89.7 L785.7 87.8 L786.5 85.9 L787.2 84.0 L787.9 82.3 L788.6 80.6 L789.3 78.9 L790.1 77.4 L790.8 75.9M972.0 479.8 L974.9 476.8 L977.8 473.8 L980.6 470.7 L983.3 467.6 L986.0 464.4 L988.6 461.2 L991.2 458.0 L993.7 454.6 L996.2 451.3 L998.6 447.9 L1000.9 444.4 L1003.1 440.9 L1005.4 437.4 L1007.5 433.8 L1009.6 430.2 L1011.6 426.6 L1013.5 422.9 L1015.4 419.2 L1017.2 415.4 L1019.0 411.7 L1020.7 407.8 L1022.3 404.0 L1023.8 400.1 L1025.3 396.2 L1026.7 392.3 L1028.0 388.3 L1029.3 384.3 L1030.5 380.3 L1031.6 376.3 L1032.7 372.2 L1033.7 368.2 L1034.6 364.1 L1035.4 360.0 L1036.2 355.9 L1036.9 351.7 L1037.5 347.6 L1038.1 343.4 L1038.5 339.2 L1039.0 335.0 L1039.3 330.8 L1039.5 326.6 L1039.7 322.4 L1039.8 318.2 L1039.9 314.0 L1039.8 309.8 L1039.7 305.6 L1039.5 301.3 L1039.3 297.1 L1039.0 292.9 L1038.5 288.7 L1038.1 284.5 L1037.5 280.3 L1036.9 276.1 L1036.2 271.9 L1035.4 267.8 L1034.6 263.6 L1033.7 259.4 L1032.7 255.3 L1031.6 251.2 L1030.5 247.1 L1029.3 243.0 L1028.0 239.0 L1026.7 234.9 L1025.3 230.9 L1023.8 226.9 L1022.3 222.9 L1020.7 219.0 L1019.0 215.1 L1017.2 211.2 L1015.4 207.3 L1013.5 203.5 L1011.6 199.7 L1009.6 195.9 L1007.5 192.2 L1005.4 188.5 L1003.1 184.8 L1000.9 181.2 L998.6 177.6 L996.2 174.0 L993.7 170.5 L991.2 167.1 L988.6 163.6 L986.0 160.3 L983.3 156.9 L980.6 153.6 L977.8 150.4 L974.9 147.2 L972.0 144.0 L969.1 140.9 L966.1 137.9 L963.0 134.9 L959.9 132.0 L956.8 129.1 L953.5 126.2 L950.3 123.4 L947.0 120.7 L943.6 118.0 L940.3 115.4 L936.8 112.9 L933.3 110.4 L929.8 107.9 L926.3 105.6 L922.7 103.3 L919.0 101.0 L915.4 98.8 L911.7 96.7 L907.9 94.6 L904.1 92.6 L900.3 90.7 L896.5 88.8 L892.6 87.0 L888.7 85.3 L884.8 83.6 L880.9 82.0 L876.9 80.5 L872.9 79.0 L868.9 77.7 L864.8 76.3 L860.7 75.1 L856.7 73.9 L852.6 72.8 L848.4 71.7 L844.3 70.8 L840.2 69.9M627.3 130.5 L630.3 127.6 L633.4 124.8 L636.5 122.1 L639.6 119.4 L642.9 116.7 L646.1 114.1 L649.4 111.6 L652.8 109.1 L656.1 106.7 L659.6 104.4 L663.1 102.1 L666.6 99.9 L670.1 97.7 L673.7 95.6 L677.4 93.6 L681.0 91.6 L684.7 89.7 L688.5 87.9 L692.3 86.1 L696.1 84.4 L699.9 82.8 L703.8 81.2 L707.7 79.8 L711.6 78.3 L715.5 77.0 L719.5 75.7 L723.5 74.5 L727.5 73.3 L731.6 72.3 L735.7 71.2 L739.7 70.3 L743.8 69.5 L748.0 68.7 L752.1 68.0 L756.2 67.3" fill="none" stroke="#000" stroke-width="0.9" stroke-dasharray="2 2"/>
</g>
<circle cx="798.2" cy="306.6" r="245.4" fill="none" stroke="#000" stroke-width="1.1"/>
<circle cx="755.6" cy="348.6" r="5.1" fill="#fff" stroke="#000" stroke-width="2.8"/>
<rect x="574.4" y="562.0" width="447.0" height="24.8" fill="url(#cb)"/>
<path d="M574.9 562.0 L552.4 574.4 L574.9 586.8 Z" fill="#000"/>
<path d="M1020.9 562.0 L1043.9 574.4 L1020.9 586.8 Z" fill="#fff"/>
<path d="M1021.4 562.5 L1043.9 574.4 L1021.4 586.8" fill="none" stroke="#000" stroke-width="0.8"/>
<line x1="574.4" y1="562.5" x2="1021.4" y2="562.5" stroke="#000" stroke-width="1"/>
<line x1="574.4" y1="586.8" x2="574.4" y2="589.0" stroke="#666" stroke-width="1"/>
<text x="574.4" y="604.4" text-anchor="middle" font-size="17.2">1450</text>
<line x1="686.1" y1="586.8" x2="686.1" y2="589.0" stroke="#666" stroke-width="1"/>
<text x="686.1" y="604.4" text-anchor="middle" font-size="17.2">1625</text>
<line x1="797.9" y1="586.8" x2="797.9" y2="589.0" stroke="#666" stroke-width="1"/>
<text x="797.9" y="604.4" text-anchor="middle" font-size="17.2">1800</text>
<line x1="909.6" y1="586.8" x2="909.6" y2="589.0" stroke="#666" stroke-width="1"/>
<text x="909.6" y="604.4" text-anchor="middle" font-size="17.2">1975</text>
<line x1="1021.4" y1="586.8" x2="1021.4" y2="589.0" stroke="#666" stroke-width="1"/>
<text x="1021.4" y="604.4" text-anchor="middle" font-size="17.2">2150</text>
<text x="799.1" y="625" text-anchor="middle" font-size="19">Temperature [K]</text>
<text x="552.9" y="552.8" font-size="17.2">Day 62</text>
<clipPath id="clip2"><circle cx="1308.6" cy="306.6" r="245.4"/></clipPath>
<g clip-path="url(#clip2)">
<circle cx="1308.6" cy="306.6" r="247.4" fill="#fa0000"/>
<path d="M1120.0 60.0 C1153.3 43.3 1250.0 40.0 1300.0 40.0 C1350.0 40.0 1391.7 48.3 1420.0 60.0 C1448.3 71.7 1473.3 100.0 1470.0 110.0 C1466.7 120.0 1425.0 118.7 1400.0 120.0 C1375.0 121.3 1345.0 119.3 1320.0 118.0 C1295.0 116.7 1273.3 111.7 1250.0 112.0 C1226.7 112.3 1200.0 115.3 1180.0 120.0 C1160.0 124.7 1143.3 136.7 1130.0 140.0 C1116.7 143.3 1101.7 153.3 1100.0 140.0 C1098.3 126.7 1086.7 76.7 1120.0 60.0Z" fill="#9f0000" filter="url(#b12)"/>
<path d="M1100.0 140.0 C1111.7 130.3 1153.3 126.2 1180.0 122.0 C1206.7 117.8 1235.0 115.3 1260.0 115.0 C1285.0 114.7 1306.7 118.3 1330.0 120.0 C1353.3 121.7 1380.0 120.0 1400.0 125.0 C1420.0 130.0 1436.7 137.5 1450.0 150.0 C1463.3 162.5 1485.0 191.7 1480.0 200.0 C1475.0 208.3 1445.0 204.2 1420.0 200.0 C1395.0 195.8 1358.3 180.0 1330.0 175.0 C1301.7 170.0 1276.7 170.8 1250.0 170.0 C1223.3 169.2 1193.3 168.3 1170.0 170.0 C1146.7 171.7 1121.7 185.0 1110.0 180.0 C1098.3 175.0 1088.3 149.7 1100.0 140.0Z" fill="#f20000" filter="url(#b10)"/>
<path d="M1060.0 180.0 C1075.0 166.7 1118.3 170.8 1150.0 170.0 C1181.7 169.2 1218.3 172.5 1250.0 175.0 C1281.7 177.5 1311.7 180.0 1340.0 185.0 C1368.3 190.0 1396.7 198.3 1420.0 205.0 C1443.3 211.7 1470.0 217.5 1480.0 225.0 C1490.0 232.5 1493.3 245.8 1480.0 250.0 C1466.7 254.2 1430.0 251.7 1400.0 250.0 C1370.0 248.3 1333.3 243.0 1300.0 240.0 C1266.7 237.0 1233.3 232.3 1200.0 232.0 C1166.7 231.7 1123.3 235.0 1100.0 238.0 C1076.7 241.0 1066.7 259.7 1060.0 250.0 C1053.3 240.3 1045.0 193.3 1060.0 180.0Z" fill="#ff3900" filter="url(#b12)"/>
<path d="M1150.0 128.0 C1158.3 127.7 1181.3 125.5 1200.0 126.0 C1218.7 126.5 1245.3 129.3 1262.0 131.0 C1278.7 132.7 1293.7 135.2 1300.0 136.0" fill="none" stroke="#ff1300" stroke-width="5" stroke-linecap="round" filter="url(#b4)"/>
<path d="M1121.0 150.0 C1127.5 149.7 1145.8 147.7 1160.0 148.0 C1174.2 148.3 1192.7 150.7 1206.0 152.0 C1219.3 153.3 1234.3 155.3 1240.0 156.0" fill="none" stroke="#d30000" stroke-width="6" stroke-linecap="round" filter="url(#b5)"/>
<path d="M1100.0 198.0 C1108.3 197.0 1133.3 192.3 1150.0 192.0 C1166.7 191.7 1181.7 194.7 1200.0 196.0 C1218.3 197.3 1250.0 199.3 1260.0 200.0" fill="none" stroke="#ff4c00" stroke-width="6" stroke-linecap="round" filter="url(#b5)"/>
<path d="M1303.0 120.0 C1315.5 125.0 1355.7 140.0 1378.0 150.0 C1400.3 160.0 1421.7 171.7 1437.0 180.0 C1452.3 188.3 1464.5 196.7 1470.0 200.0" fill="none" stroke="#ff2100" stroke-width="8" stroke-linecap="round" filter="url(#b6)"/>
<path d="M1380.0 80.0 C1391.7 76.7 1428.3 88.3 1450.0 100.0 C1471.7 111.7 1494.2 131.7 1510.0 150.0 C1525.8 168.3 1535.8 185.0 1545.0 210.0 C1554.2 235.0 1565.8 285.0 1565.0 300.0 C1564.2 315.0 1548.3 310.0 1540.0 300.0 C1531.7 290.0 1525.0 258.3 1515.0 240.0 C1505.0 221.7 1492.5 205.0 1480.0 190.0 C1467.5 175.0 1453.3 160.0 1440.0 150.0 C1426.7 140.0 1410.0 135.0 1400.0 130.0 C1390.0 125.0 1383.3 128.3 1380.0 120.0 C1376.7 111.7 1368.3 83.3 1380.0 80.0Z" fill="#870000" filter="url(#b12)"/>
<path d="M1290.0 68.0 C1303.3 66.0 1358.3 82.2 1380.0 88.0 C1401.7 93.8 1406.3 96.0 1420.0 103.0 C1433.7 110.0 1449.8 120.8 1462.0 130.0 C1474.2 139.2 1483.3 148.0 1493.0 158.0 C1502.7 168.0 1512.2 178.7 1520.0 190.0 C1527.8 201.3 1534.7 212.3 1540.0 226.0 C1545.3 239.7 1549.3 259.7 1552.0 272.0 C1554.7 284.3 1557.2 296.0 1556.0 300.0 C1554.8 304.0 1549.0 304.0 1545.0 296.0 C1541.0 288.0 1537.0 265.0 1532.0 252.0 C1527.0 239.0 1522.0 228.7 1515.0 218.0 C1508.0 207.3 1499.2 197.7 1490.0 188.0 C1480.8 178.3 1470.8 168.7 1460.0 160.0 C1449.2 151.3 1438.3 142.8 1425.0 136.0 C1411.7 129.2 1400.8 125.0 1380.0 119.0 C1359.2 113.0 1315.0 108.5 1300.0 100.0 C1285.0 91.5 1276.7 70.0 1290.0 68.0Z" fill="#4c0000" filter="url(#b6)"/>
<path d="M1050.0 300.0 C1058.3 280.0 1083.3 295.0 1100.0 300.0 C1116.7 305.0 1136.7 316.7 1150.0 330.0 C1163.3 343.3 1176.7 361.7 1180.0 380.0 C1183.3 398.3 1175.0 423.3 1170.0 440.0 C1165.0 456.7 1158.3 470.0 1150.0 480.0 C1141.7 490.0 1131.7 500.0 1120.0 500.0 C1108.3 500.0 1091.7 493.3 1080.0 480.0 C1068.3 466.7 1055.0 450.0 1050.0 420.0 C1045.0 390.0 1041.7 320.0 1050.0 300.0Z" fill="#ff3400" filter="url(#b12)"/>
<path d="M1111.0 236.0 C1117.3 229.5 1143.7 231.2 1158.0 231.0 C1172.3 230.8 1184.0 233.7 1197.0 235.0 C1210.0 236.3 1222.8 238.3 1236.0 239.0 C1249.2 239.7 1263.7 238.3 1276.0 239.0 C1288.3 239.7 1299.3 240.8 1310.0 243.0 C1320.7 245.2 1329.2 249.3 1340.0 252.0 C1350.8 254.7 1363.5 256.2 1375.0 259.0 C1386.5 261.8 1397.7 265.0 1409.0 269.0 C1420.3 273.0 1432.7 277.8 1443.0 283.0 C1453.3 288.2 1461.5 294.7 1471.0 300.0 C1480.5 305.3 1493.5 307.5 1500.0 315.0 C1506.5 322.5 1513.3 338.3 1510.0 345.0 C1506.7 351.7 1495.0 353.8 1480.0 355.0 C1465.0 356.2 1438.3 353.7 1420.0 352.0 C1401.7 350.3 1385.0 345.7 1370.0 345.0 C1355.0 344.3 1341.7 346.3 1330.0 348.0 C1318.3 349.7 1310.0 351.7 1300.0 355.0 C1290.0 358.3 1280.7 363.2 1270.0 368.0 C1259.3 372.8 1246.2 378.8 1236.0 384.0 C1225.8 389.2 1216.7 393.8 1209.0 399.0 C1201.3 404.2 1195.7 409.0 1190.0 415.0 C1184.3 421.0 1180.0 427.5 1175.0 435.0 C1170.0 442.5 1165.0 451.7 1160.0 460.0 C1155.0 468.3 1150.0 483.3 1145.0 485.0 C1140.0 486.7 1129.2 480.8 1130.0 470.0 C1130.8 459.2 1144.2 436.7 1150.0 420.0 C1155.8 403.3 1163.3 386.7 1165.0 370.0 C1166.7 353.3 1164.2 333.3 1160.0 320.0 C1155.8 306.7 1146.7 298.3 1140.0 290.0 C1133.3 281.7 1124.8 279.0 1120.0 270.0 C1115.2 261.0 1104.7 242.5 1111.0 236.0Z" fill="#ffd700" filter="url(#b8)"/>
<path d="M1130.0 270.0 C1139.2 264.2 1165.0 260.0 1180.0 265.0 C1195.0 270.0 1214.2 285.8 1220.0 300.0 C1225.8 314.2 1220.0 334.2 1215.0 350.0 C1210.0 365.8 1198.3 383.3 1190.0 395.0 C1181.7 406.7 1173.3 417.5 1165.0 420.0 C1156.7 422.5 1145.8 420.0 1140.0 410.0 C1134.2 400.0 1132.5 378.3 1130.0 360.0 C1127.5 341.7 1125.0 315.0 1125.0 300.0 C1125.0 285.0 1120.8 275.8 1130.0 270.0Z" fill="#ff8a00" filter="url(#b12)"/>
<path d="M1250.0 255.0 C1260.0 251.7 1285.0 249.5 1300.0 250.0 C1315.0 250.5 1327.5 255.5 1340.0 258.0 C1352.5 260.5 1363.5 262.0 1375.0 265.0 C1386.5 268.0 1398.2 271.8 1409.0 276.0 C1419.8 280.2 1431.5 285.2 1440.0 290.0 C1448.5 294.8 1460.0 300.3 1460.0 305.0 C1460.0 309.7 1450.0 314.7 1440.0 318.0 C1430.0 321.3 1411.7 322.7 1400.0 325.0 C1388.3 327.3 1380.0 329.5 1370.0 332.0 C1360.0 334.5 1351.7 337.3 1340.0 340.0 C1328.3 342.7 1310.8 348.8 1300.0 348.0 C1289.2 347.2 1283.3 343.0 1275.0 335.0 C1266.7 327.0 1255.8 310.8 1250.0 300.0 C1244.2 289.2 1240.0 277.5 1240.0 270.0 C1240.0 262.5 1240.0 258.3 1250.0 255.0Z" fill="#ffff68" filter="url(#b8)"/>
<path d="M1095.0 255.0 C1100.0 245.0 1108.3 248.3 1115.0 250.0 C1121.7 251.7 1130.8 257.5 1135.0 265.0 C1139.2 272.5 1141.7 285.8 1140.0 295.0 C1138.3 304.2 1131.7 314.5 1125.0 320.0 C1118.3 325.5 1106.7 329.7 1100.0 328.0 C1093.3 326.3 1085.8 322.2 1085.0 310.0 C1084.2 297.8 1090.0 265.0 1095.0 255.0Z" fill="#ff1700" filter="url(#b10)"/>
<path d="M1076.0 303.0 C1079.2 304.5 1087.7 309.5 1095.0 312.0 C1102.3 314.5 1115.8 317.0 1120.0 318.0" fill="none" stroke="#b20000" stroke-width="12" stroke-linecap="round" filter="url(#b8)"/>
<path d="M1118.0 240.0 C1115.0 240.3 1105.7 237.7 1100.0 242.0 C1094.3 246.3 1088.2 258.0 1084.0 266.0 C1079.8 274.0 1076.0 283.5 1075.0 290.0 C1074.0 296.5 1077.5 302.5 1078.0 305.0" fill="none" stroke="#ffff04" stroke-width="16" stroke-linecap="round" filter="url(#b6)"/>
<path d="M1050.0 300.0 C1053.3 276.7 1065.3 300.0 1070.0 310.0 C1074.7 320.0 1075.5 341.7 1078.0 360.0 C1080.5 378.3 1081.3 401.7 1085.0 420.0 C1088.7 438.3 1095.8 453.3 1100.0 470.0 C1104.2 486.7 1113.3 511.7 1110.0 520.0 C1106.7 528.3 1090.0 531.7 1080.0 520.0 C1070.0 508.3 1055.0 486.7 1050.0 450.0 C1045.0 413.3 1046.7 323.3 1050.0 300.0Z" fill="#ca0000" filter="url(#b10)"/>
<path d="M1090.0 398.0 C1094.7 390.5 1110.0 391.3 1120.0 395.0 C1130.0 398.7 1144.2 409.2 1150.0 420.0 C1155.8 430.8 1156.7 450.8 1155.0 460.0 C1153.3 469.2 1147.5 474.2 1140.0 475.0 C1132.5 475.8 1118.0 470.8 1110.0 465.0 C1102.0 459.2 1095.3 451.2 1092.0 440.0 C1088.7 428.8 1085.3 405.5 1090.0 398.0Z" fill="#c50000" filter="url(#b8)"/>
<path d="M1370.0 324.0 C1361.0 327.2 1331.5 336.5 1316.0 343.0 C1300.5 349.5 1288.8 355.8 1277.0 363.0 C1265.2 370.2 1254.8 378.8 1245.0 386.0 C1235.2 393.2 1227.2 399.5 1218.0 406.0 C1208.8 412.5 1197.8 419.2 1190.0 425.0 C1182.2 430.8 1176.2 435.7 1171.0 441.0 C1165.8 446.3 1163.0 450.5 1159.0 457.0 C1155.0 463.5 1150.2 472.8 1147.0 480.0 C1143.8 487.2 1141.2 496.7 1140.0 500.0" fill="none" stroke="#ffff19" stroke-width="15" stroke-linecap="round" filter="url(#b6)"/>
<path d="M1480.0 362.0 C1470.0 361.7 1438.3 362.0 1420.0 360.0 C1401.7 358.0 1386.7 349.2 1370.0 350.0 C1353.3 350.8 1334.2 359.2 1320.0 365.0 C1305.8 370.8 1295.8 377.5 1285.0 385.0 C1274.2 392.5 1265.0 402.2 1255.0 410.0 C1245.0 417.8 1234.2 425.3 1225.0 432.0 C1215.8 438.7 1207.5 442.8 1200.0 450.0 C1192.5 457.2 1185.0 465.8 1180.0 475.0 C1175.0 484.2 1171.7 500.0 1170.0 505.0" fill="none" stroke="#ff6d00" stroke-width="14" stroke-linecap="round" filter="url(#b10)"/>
<path d="M1300.0 343.0 C1311.7 337.7 1330.0 338.0 1350.0 338.0 C1370.0 338.0 1398.3 341.3 1420.0 343.0 C1441.7 344.7 1469.0 343.2 1480.0 348.0 C1491.0 352.8 1496.0 367.3 1486.0 372.0 C1476.0 376.7 1441.0 375.8 1420.0 376.0 C1399.0 376.2 1378.3 372.0 1360.0 373.0 C1341.7 374.0 1322.5 378.8 1310.0 382.0 C1297.5 385.2 1290.0 394.0 1285.0 392.0 C1280.0 390.0 1277.5 378.2 1280.0 370.0 C1282.5 361.8 1288.3 348.3 1300.0 343.0Z" fill="#ff6900" filter="url(#b8)"/>
<path d="M1300.0 400.0 C1316.7 393.7 1340.0 385.3 1360.0 382.0 C1380.0 378.7 1400.3 380.3 1420.0 380.0 C1439.7 379.7 1469.7 370.0 1478.0 380.0 C1486.3 390.0 1476.3 420.0 1470.0 440.0 C1463.7 460.0 1451.7 485.0 1440.0 500.0 C1428.3 515.0 1420.0 523.3 1400.0 530.0 C1380.0 536.7 1350.0 538.3 1320.0 540.0 C1290.0 541.7 1241.7 543.3 1220.0 540.0 C1198.3 536.7 1193.3 530.0 1190.0 520.0 C1186.7 510.0 1193.3 491.7 1200.0 480.0 C1206.7 468.3 1220.0 460.0 1230.0 450.0 C1240.0 440.0 1248.3 428.3 1260.0 420.0 C1271.7 411.7 1283.3 406.3 1300.0 400.0Z" fill="#dd0000" filter="url(#b10)"/>
<path d="M1305.0 470.0 C1315.0 460.0 1340.8 458.3 1360.0 460.0 C1379.2 461.7 1408.3 470.0 1420.0 480.0 C1431.7 490.0 1440.0 510.8 1430.0 520.0 C1420.0 529.2 1381.7 535.0 1360.0 535.0 C1338.3 535.0 1309.2 530.8 1300.0 520.0 C1290.8 509.2 1295.0 480.0 1305.0 470.0Z" fill="#b20000" filter="url(#b10)"/>
<path d="M1330.0 420.0 C1336.7 417.5 1356.7 405.8 1370.0 405.0 C1383.3 404.2 1401.7 409.2 1410.0 415.0 C1418.3 420.8 1422.5 433.3 1420.0 440.0 C1417.5 446.7 1403.3 454.2 1395.0 455.0 C1386.7 455.8 1374.2 446.7 1370.0 445.0" fill="none" stroke="#fe0000" stroke-width="8" stroke-linecap="round" filter="url(#b6)"/>
<path d="M1481.0 330.0 C1488.3 326.7 1517.2 331.7 1524.0 340.0 C1530.8 348.3 1523.3 366.7 1522.0 380.0 C1520.7 393.3 1519.5 406.3 1516.0 420.0 C1512.5 433.7 1507.5 449.8 1501.0 462.0 C1494.5 474.2 1485.5 484.2 1477.0 493.0 C1468.5 501.8 1457.2 512.3 1450.0 515.0 C1442.8 517.7 1433.3 514.7 1434.0 509.0 C1434.7 503.3 1448.0 492.2 1454.0 481.0 C1460.0 469.8 1465.5 455.0 1470.0 442.0 C1474.5 429.0 1479.3 416.7 1481.0 403.0 C1482.7 389.3 1480.0 372.2 1480.0 360.0 C1480.0 347.8 1473.7 333.3 1481.0 330.0Z" fill="#ffb000" filter="url(#b8)"/>
<path d="M1481.0 330.0 C1487.7 326.7 1513.8 331.7 1520.0 340.0 C1526.2 348.3 1519.3 366.7 1518.0 380.0 C1516.7 393.3 1515.3 406.7 1512.0 420.0 C1508.7 433.3 1504.2 448.3 1498.0 460.0 C1491.8 471.7 1483.0 481.3 1475.0 490.0 C1467.0 498.7 1455.8 509.5 1450.0 512.0 C1444.2 514.5 1438.7 510.7 1440.0 505.0 C1441.3 499.3 1452.7 488.8 1458.0 478.0 C1463.3 467.2 1468.0 453.0 1472.0 440.0 C1476.0 427.0 1480.7 413.3 1482.0 400.0 C1483.3 386.7 1480.2 371.7 1480.0 360.0 C1479.8 348.3 1474.3 333.3 1481.0 330.0Z" fill="#ffff19" filter="url(#gB)"/>
<path d="M1495.0 340.0 C1498.2 335.8 1519.8 335.0 1524.0 345.0 C1528.2 355.0 1523.2 382.5 1520.0 400.0 C1516.8 417.5 1510.8 436.7 1505.0 450.0 C1499.2 463.3 1489.2 478.3 1485.0 480.0 C1480.8 481.7 1477.5 471.7 1480.0 460.0 C1482.5 448.3 1495.8 425.0 1500.0 410.0 C1504.2 395.0 1505.8 381.7 1505.0 370.0 C1504.2 358.3 1491.8 344.2 1495.0 340.0Z" fill="#fa0000" filter="url(#gC)"/>
<path d="M1520.0 290.0 C1522.8 278.3 1538.3 280.0 1545.0 290.0 C1551.7 300.0 1560.0 328.3 1560.0 350.0 C1560.0 371.7 1551.7 398.3 1545.0 420.0 C1538.3 441.7 1526.7 471.7 1520.0 480.0 C1513.3 488.3 1505.0 480.0 1505.0 470.0 C1505.0 460.0 1516.2 438.3 1520.0 420.0 C1523.8 401.7 1528.0 381.7 1528.0 360.0 C1528.0 338.3 1517.2 301.7 1520.0 290.0Z" fill="#900000" filter="url(#b8)"/>
<path d="M1515.0 280.0 C1517.8 271.7 1538.8 278.3 1545.0 290.0 C1551.2 301.7 1552.8 328.3 1552.0 350.0 C1551.2 371.7 1545.3 400.0 1540.0 420.0 C1534.7 440.0 1525.0 465.0 1520.0 470.0 C1515.0 475.0 1509.2 461.7 1510.0 450.0 C1510.8 438.3 1522.0 418.3 1525.0 400.0 C1528.0 381.7 1529.7 360.0 1528.0 340.0 C1526.3 320.0 1512.2 288.3 1515.0 280.0Z" fill="#d80000" filter="url(#gD)"/>
<path d="M1120.0 280.0 C1129.2 270.0 1151.7 266.7 1170.0 270.0 C1188.3 273.3 1215.0 288.3 1230.0 300.0 C1245.0 311.7 1258.3 328.3 1260.0 340.0 C1261.7 351.7 1250.0 361.7 1240.0 370.0 C1230.0 378.3 1213.3 385.0 1200.0 390.0 C1186.7 395.0 1171.7 401.7 1160.0 400.0 C1148.3 398.3 1137.5 391.7 1130.0 380.0 C1122.5 368.3 1116.7 346.7 1115.0 330.0 C1113.3 313.3 1110.8 290.0 1120.0 280.0Z" fill="#ffd700" filter="url(#gE)"/>
<path d="M1260.0 245.0 C1268.3 242.7 1306.7 245.2 1330.0 248.0 C1353.3 250.8 1380.0 255.8 1400.0 262.0 C1420.0 268.2 1438.3 278.7 1450.0 285.0 C1461.7 291.3 1471.7 297.5 1470.0 300.0 C1468.3 302.5 1451.7 302.5 1440.0 300.0 C1428.3 297.5 1416.7 290.3 1400.0 285.0 C1383.3 279.7 1360.0 271.8 1340.0 268.0 C1320.0 264.2 1293.3 265.8 1280.0 262.0 C1266.7 258.2 1251.7 247.3 1260.0 245.0Z" fill="#ffffa9" filter="url(#gA)"/>
<path d="M1180.0 530.0 C1200.0 524.2 1260.0 535.0 1300.0 535.0 C1340.0 535.0 1395.0 525.8 1420.0 530.0 C1445.0 534.2 1490.0 553.3 1450.0 560.0 C1410.0 566.7 1225.0 575.0 1180.0 570.0 C1135.0 565.0 1160.0 535.8 1180.0 530.0Z" fill="#e70000" filter="url(#b10)"/>
<path d="M1125.0 468.0 C1126.7 462.0 1141.7 466.7 1150.0 472.0 C1158.3 477.3 1171.7 492.3 1175.0 500.0 C1178.3 507.7 1175.8 516.7 1170.0 518.0 C1164.2 519.3 1147.5 516.3 1140.0 508.0 C1132.5 499.7 1123.3 474.0 1125.0 468.0Z" fill="#ff8a00" filter="url(#b8)"/>
<path d="M1191.9 522.5 L1193.3 523.2 L1194.8 523.9 L1196.5 524.6 L1198.3 525.2 L1200.3 525.9 L1202.3 526.5 L1204.5 527.2 L1206.9 527.8 L1209.3 528.4 L1211.9 529.0 L1214.6 529.6 L1217.4 530.2 L1220.3 530.7 L1223.4 531.2 L1226.5 531.7 L1229.7 532.2 L1233.1 532.7 L1236.5 533.1 L1240.0 533.6 L1243.6 534.0 L1247.2 534.3 L1251.0 534.7 L1254.8 535.0 L1258.7 535.4 L1262.6 535.6 L1266.6 535.9 L1270.7 536.2 L1274.8 536.4 L1278.9 536.6 L1283.1 536.7 L1287.3 536.9 L1291.5 537.0 L1295.8 537.1 L1300.0 537.1 L1304.3 537.2 L1308.6 537.2 L1312.9 537.2 L1317.2 537.1 L1321.4 537.1 L1325.7 537.0 L1329.9 536.9 L1334.1 536.7 L1338.3 536.6 L1342.4 536.4 L1346.5 536.2 L1350.6 535.9 L1354.6 535.6 L1358.5 535.4 L1362.4 535.0 L1366.2 534.7 L1369.9 534.3 L1373.6 534.0 L1377.2 533.6 L1380.7 533.1 L1384.1 532.7 L1387.5 532.2 L1390.7 531.7 L1393.8 531.2 L1396.9 530.7 L1399.8 530.2 L1402.6 529.6 L1405.3 529.0 L1407.9 528.4 L1410.3 527.8 L1412.7 527.2 L1414.9 526.5 L1416.9 525.9 L1418.9 525.2 L1420.7 524.6 L1422.4 523.9 L1423.9 523.2 L1425.3 522.5M1097.2 431.3 L1098.1 432.6 L1099.3 433.8 L1100.7 435.1 L1102.4 436.4 L1104.3 437.6 L1106.5 438.8 L1108.9 440.1 L1111.6 441.3 L1114.5 442.4 L1117.6 443.6 L1121.0 444.8 L1124.5 445.9 L1128.4 447.0 L1132.4 448.1 L1136.7 449.1 L1141.1 450.2 L1145.8 451.2 L1150.7 452.1 L1155.7 453.1 L1161.0 454.0 L1166.4 454.9 L1172.0 455.7 L1177.8 456.5 L1183.7 457.3 L1189.8 458.0 L1196.0 458.7 L1202.3 459.4 L1208.8 460.0 L1215.4 460.6 L1222.2 461.1 L1229.0 461.7 L1235.9 462.1 L1242.9 462.5 L1250.0 462.9 L1257.2 463.2 L1264.4 463.5 L1271.7 463.8 L1279.0 464.0 L1286.4 464.1 L1293.8 464.3 L1301.2 464.3 L1308.6 464.3 L1316.0 464.3 L1323.4 464.3 L1330.8 464.1 L1338.2 464.0 L1345.5 463.8 L1352.8 463.5 L1360.0 463.2 L1367.2 462.9 L1374.3 462.5 L1381.3 462.1 L1388.2 461.7 L1395.0 461.1 L1401.8 460.6 L1408.4 460.0 L1414.9 459.4 L1421.2 458.7 L1427.4 458.0 L1433.5 457.3 L1439.4 456.5 L1445.2 455.7 L1450.8 454.9 L1456.2 454.0 L1461.5 453.1 L1466.5 452.1 L1471.4 451.2 L1476.1 450.2 L1480.5 449.1 L1484.8 448.1 L1488.8 447.0 L1492.6 445.9 L1496.2 444.8 L1499.6 443.6 L1502.7 442.4 L1505.6 441.3 L1508.3 440.1 L1510.7 438.8 L1512.9 437.6 L1514.8 436.4 L1516.5 435.1 L1517.9 433.8 L1519.1 432.6 L1520.0 431.3M1063.2 306.6 L1063.3 308.1 L1063.8 309.6 L1064.5 311.1 L1065.6 312.5 L1066.9 314.0 L1068.6 315.5 L1070.5 316.9 L1072.7 318.3 L1075.2 319.8 L1078.0 321.2 L1081.1 322.6 L1084.4 323.9 L1088.0 325.3 L1091.9 326.6 L1096.1 327.9 L1100.5 329.2 L1105.2 330.4 L1110.1 331.6 L1115.2 332.8 L1120.6 334.0 L1126.2 335.1 L1132.1 336.2 L1138.1 337.3 L1144.4 338.3 L1150.9 339.2 L1157.5 340.2 L1164.4 341.1 L1171.4 341.9 L1178.6 342.7 L1185.9 343.5 L1193.4 344.2 L1201.0 344.9 L1208.8 345.5 L1216.7 346.1 L1224.7 346.6 L1232.8 347.1 L1241.0 347.6 L1249.2 347.9 L1257.6 348.3 L1266.0 348.6 L1274.4 348.8 L1282.9 349.0 L1291.5 349.1 L1300.0 349.2 L1308.6 349.2 L1317.2 349.2 L1325.7 349.1 L1334.3 349.0 L1342.8 348.8 L1351.2 348.6 L1359.6 348.3 L1368.0 347.9 L1376.2 347.6 L1384.4 347.1 L1392.5 346.6 L1400.5 346.1 L1408.4 345.5 L1416.2 344.9 L1423.8 344.2 L1431.3 343.5 L1438.6 342.7 L1445.8 341.9 L1452.8 341.1 L1459.7 340.2 L1466.3 339.2 L1472.8 338.3 L1479.1 337.3 L1485.1 336.2 L1491.0 335.1 L1496.6 334.0 L1502.0 332.8 L1507.1 331.6 L1512.0 330.4 L1516.7 329.2 L1521.1 327.9 L1525.3 326.6 L1529.2 325.3 L1532.8 323.9 L1536.1 322.6 L1539.2 321.2 L1542.0 319.8 L1544.5 318.3 L1546.7 316.9 L1548.6 315.5 L1550.3 314.0 L1551.6 312.5 L1552.7 311.1 L1553.4 309.6 L1553.9 308.1 L1554.0 306.6M1096.6 183.2 L1096.2 184.5 L1096.1 185.8 L1096.2 187.1 L1096.6 188.3 L1097.2 189.6 L1098.1 190.9 L1099.3 192.2 L1100.7 193.4 L1102.4 194.7 L1104.3 195.9 L1106.5 197.2 L1108.9 198.4 L1111.6 199.6 L1114.5 200.8 L1117.6 201.9 L1121.0 203.1 L1124.5 204.2 L1128.4 205.3 L1132.4 206.4 L1136.7 207.5 L1141.1 208.5 L1145.8 209.5 L1150.7 210.5 L1155.7 211.4 L1161.0 212.3 L1166.4 213.2 L1172.0 214.0 L1177.8 214.8 L1183.7 215.6 L1189.8 216.4 L1196.0 217.1 L1202.3 217.7 L1208.8 218.3 L1215.4 218.9 L1222.2 219.5 L1229.0 220.0 L1235.9 220.4 L1242.9 220.9 L1250.0 221.2 L1257.2 221.6 L1264.4 221.9 L1271.7 222.1 L1279.0 222.3 L1286.4 222.5 L1293.8 222.6 L1301.2 222.6 L1308.6 222.7 L1316.0 222.6 L1323.4 222.6 L1330.8 222.5 L1338.2 222.3 L1345.5 222.1 L1352.8 221.9 L1360.0 221.6 L1367.2 221.2 L1374.3 220.9 L1381.3 220.4 L1388.2 220.0 L1395.0 219.5 L1401.8 218.9 L1408.4 218.3 L1414.9 217.7 L1421.2 217.1 L1427.4 216.4 L1433.5 215.6 L1439.4 214.8 L1445.2 214.0 L1450.8 213.2 L1456.2 212.3 L1461.5 211.4 L1466.5 210.5 L1471.4 209.5 L1476.1 208.5 L1480.5 207.5 L1484.8 206.4 L1488.8 205.3 L1492.6 204.2 L1496.2 203.1 L1499.6 201.9 L1502.7 200.8 L1505.6 199.6 L1508.3 198.4 L1510.7 197.2 L1512.9 195.9 L1514.8 194.7 L1516.5 193.4 L1517.9 192.2 L1519.1 190.9 L1520.0 189.6 L1520.6 188.3 L1521.0 187.1 L1521.1 185.8 L1521.0 184.5 L1520.6 183.2M1190.7 91.4 L1189.5 92.2 L1188.6 92.9 L1187.8 93.6 L1187.1 94.3 L1186.6 95.1 L1186.2 95.8 L1186.0 96.6 L1185.9 97.3 L1186.0 98.0 L1186.2 98.8 L1186.6 99.5 L1187.1 100.3 L1187.8 101.0 L1188.6 101.7 L1189.5 102.5 L1190.7 103.2 L1191.9 103.9 L1193.3 104.6 L1194.8 105.3 L1196.5 106.0 L1198.3 106.6 L1200.3 107.3 L1202.3 108.0 L1204.5 108.6 L1206.9 109.2 L1209.3 109.8 L1211.9 110.4 L1214.6 111.0 L1217.4 111.6 L1220.3 112.1 L1223.4 112.6 L1226.5 113.1 L1229.7 113.6 L1233.1 114.1 L1236.5 114.5 L1240.0 115.0 L1243.6 115.4 L1247.2 115.8 L1251.0 116.1 L1254.8 116.5 L1258.7 116.8 L1262.6 117.1 L1266.6 117.3 L1270.7 117.6 L1274.8 117.8 L1278.9 118.0 L1283.1 118.1 L1287.3 118.3 L1291.5 118.4 L1295.8 118.5 L1300.0 118.6 L1304.3 118.6 L1308.6 118.6 L1312.9 118.6 L1317.2 118.6 L1321.4 118.5 L1325.7 118.4 L1329.9 118.3 L1334.1 118.1 L1338.3 118.0 L1342.4 117.8 L1346.5 117.6 L1350.6 117.3 L1354.6 117.1 L1358.5 116.8 L1362.4 116.5 L1366.2 116.1 L1369.9 115.8 L1373.6 115.4 L1377.2 115.0 L1380.7 114.5 L1384.1 114.1 L1387.5 113.6 L1390.7 113.1 L1393.8 112.6 L1396.9 112.1 L1399.8 111.6 L1402.6 111.0 L1405.3 110.4 L1407.9 109.8 L1410.3 109.2 L1412.7 108.6 L1414.9 108.0 L1416.9 107.3 L1418.9 106.6 L1420.7 106.0 L1422.4 105.3 L1423.9 104.6 L1425.3 103.9 L1426.5 103.2 L1427.7 102.5 L1428.6 101.7 L1429.4 101.0 L1430.1 100.3 L1430.6 99.5 L1431.0 98.8 L1431.2 98.0 L1431.3 97.3 L1431.2 96.6 L1431.0 95.8 L1430.6 95.1 L1430.1 94.3 L1429.4 93.6 L1428.6 92.9 L1427.7 92.2 L1426.5 91.4M1316.0 61.3 L1314.5 61.3 L1313.1 61.2 L1311.6 61.2 L1310.1 61.2M1307.1 61.2 L1305.6 61.2 L1304.1 61.2 L1302.7 61.3 L1301.2 61.3 L1299.7 61.4 L1298.3 61.4 L1296.9 61.5 L1295.4 61.6 L1294.0 61.6 L1292.6 61.7 L1291.3 61.8 L1289.9 61.9 L1288.6 62.1 L1287.3 62.2 L1286.0 62.3 L1284.8 62.5 L1283.6 62.6 L1282.4 62.8 L1281.2 62.9 L1280.1 63.1 L1279.0 63.3 L1277.9 63.5 L1276.9 63.6 L1276.0 63.8 L1275.0 64.0 L1274.1 64.3 L1273.3 64.5 L1272.5 64.7 L1271.7 64.9 L1271.0 65.1 L1270.3 65.4 L1269.7 65.6 L1269.1 65.8 L1268.6 66.1 L1268.1 66.3 L1267.6 66.6 L1267.3 66.8 L1266.9 67.1 L1266.6 67.3 L1266.4 67.6 L1266.2 67.8 L1266.1 68.1 L1266.0 68.3 L1266.0 68.6 L1266.0 68.9 L1266.1 69.1 L1266.2 69.4 L1266.4 69.6 L1266.6 69.9 L1266.9 70.1 L1267.3 70.4 L1267.6 70.6 L1268.1 70.9 L1268.6 71.1 L1269.1 71.4 L1269.7 71.6 L1270.3 71.8 L1271.0 72.1 L1271.7 72.3 L1272.5 72.5 L1273.3 72.7 L1274.1 72.9 L1275.0 73.2 L1276.0 73.4 L1276.9 73.6 L1277.9 73.7 L1279.0 73.9 L1280.1 74.1 L1281.2 74.3 L1282.4 74.4 L1283.6 74.6 L1284.8 74.7 L1286.0 74.9 L1287.3 75.0 L1288.6 75.1 L1289.9 75.3 L1291.3 75.4 L1292.6 75.5 L1294.0 75.6 L1295.4 75.6 L1296.9 75.7 L1298.3 75.8 L1299.7 75.8 L1301.2 75.9 L1302.7 75.9 L1304.1 76.0 L1305.6 76.0 L1307.1 76.0 L1308.6 76.0 L1310.1 76.0 L1311.6 76.0 L1313.1 76.0 L1314.5 75.9 L1316.0 75.9 L1317.5 75.8 L1318.9 75.8 L1320.3 75.7 L1321.8 75.6 L1323.2 75.6 L1324.6 75.5 L1325.9 75.4 L1327.3 75.3 L1328.6 75.1 L1329.9 75.0 L1331.2 74.9 L1332.4 74.7 L1333.6 74.6 L1334.8 74.4 L1336.0 74.3 L1337.1 74.1 L1338.2 73.9 L1339.3 73.7 L1340.3 73.6 L1341.2 73.4 L1342.2 73.2 L1343.1 72.9 L1343.9 72.7 L1344.7 72.5 L1345.5 72.3 L1346.2 72.1 L1346.9 71.8 L1347.5 71.6 L1348.1 71.4 L1348.6 71.1 L1349.1 70.9 L1349.6 70.6 L1349.9 70.4 L1350.3 70.1 L1350.6 69.9 L1350.8 69.6 L1351.0 69.4 L1351.1 69.1 L1351.2 68.9 L1351.2 68.6 L1351.2 68.3 L1351.1 68.1 L1351.0 67.8 L1350.8 67.6 L1350.6 67.3 L1350.3 67.1 L1349.9 66.8 L1349.6 66.6 L1349.1 66.3 L1348.6 66.1 L1348.1 65.8 L1347.5 65.6 L1346.9 65.4 L1346.2 65.1 L1345.5 64.9 L1344.7 64.7 L1343.9 64.5 L1343.1 64.3 L1342.2 64.0 L1341.2 63.8 L1340.3 63.6 L1339.3 63.5 L1338.2 63.3 L1337.1 63.1 L1336.0 62.9 L1334.8 62.8 L1333.6 62.6 L1332.4 62.5 L1331.2 62.3 L1329.9 62.2 L1328.6 62.1 L1327.3 61.9 L1325.9 61.8 L1324.6 61.7 L1323.2 61.6 L1321.8 61.6 L1320.3 61.5 L1318.9 61.4 L1317.5 61.4 L1316.0 61.3M1300.5 551.8 L1299.7 551.7 L1299.0 551.5 L1298.3 551.2 L1297.6 550.9 L1296.9 550.5 L1296.1 550.0 L1295.4 549.4 L1294.7 548.8 L1294.0 548.1 L1293.3 547.3 L1292.6 546.4 L1291.9 545.5 L1291.3 544.4 L1290.6 543.4 L1289.9 542.2 L1289.3 541.0 L1288.6 539.7 L1287.9 538.3 L1287.3 536.9 L1286.7 535.4 L1286.0 533.8 L1285.4 532.1 L1284.8 530.4 L1284.2 528.6 L1283.6 526.8 L1283.0 524.9 L1282.4 522.9 L1281.8 520.8 L1281.2 518.7 L1280.6 516.5 L1280.1 514.3 L1279.5 512.0 L1279.0 509.6 L1278.5 507.2 L1277.9 504.7 L1277.4 502.1 L1276.9 499.5 L1276.4 496.8 L1276.0 494.1 L1275.5 491.3 L1275.0 488.5 L1274.6 485.6 L1274.1 482.6 L1273.7 479.6 L1273.3 476.5 L1272.9 473.4 L1272.5 470.3 L1272.1 467.0 L1271.7 463.8 L1271.3 460.5 L1271.0 457.1 L1270.6 453.7 L1270.3 450.3 L1270.0 446.8 L1269.7 443.2 L1269.4 439.7 L1269.1 436.0 L1268.8 432.4 L1268.6 428.7 L1268.3 425.0 L1268.1 421.2 L1267.8 417.4 L1267.6 413.6 L1267.4 409.7 L1267.3 405.8 L1267.1 401.9 L1266.9 397.9 L1266.8 393.9 L1266.6 389.9 L1266.5 385.9 L1266.4 381.8 L1266.3 377.7 L1266.2 373.6 L1266.1 369.5 L1266.1 365.3 L1266.0 361.2 L1266.0 357.0 L1266.0 352.8 L1266.0 348.6 L1266.0 344.3 L1266.0 340.1 L1266.0 335.9 L1266.1 331.6 L1266.1 327.3 L1266.2 323.1 L1266.3 318.8 L1266.4 314.5 L1266.5 310.2 L1266.6 306.0 L1266.8 301.7 L1266.9 297.4 L1267.1 293.1 L1267.3 288.9 L1267.4 284.6 L1267.6 280.3 L1267.8 276.1 L1268.1 271.8 L1268.3 267.6 L1268.6 263.4 L1268.8 259.2 L1269.1 255.0 L1269.4 250.8 L1269.7 246.6 L1270.0 242.5 L1270.3 238.4 L1270.6 234.3 L1271.0 230.2 L1271.3 226.1 L1271.7 222.1 L1272.1 218.1 L1272.5 214.1 L1272.9 210.2 L1273.3 206.3 L1273.7 202.4 L1274.1 198.5 L1274.6 194.7 L1275.0 190.9 L1275.5 187.1 L1276.0 183.4 L1276.4 179.7 L1276.9 176.1 L1277.4 172.5 L1277.9 168.9 L1278.5 165.4 L1279.0 161.9 L1279.5 158.5 L1280.1 155.1 L1280.6 151.7 L1281.2 148.4 L1281.8 145.2 L1282.4 142.0 L1283.0 138.8 L1283.6 135.8 L1284.2 132.7 L1284.8 129.7 L1285.4 126.8 L1286.0 123.9 L1286.7 121.1 L1287.3 118.3 L1287.9 115.6 L1288.6 112.9 L1289.3 110.3 L1289.9 107.8 L1290.6 105.3 L1291.3 102.9 L1291.9 100.5 L1292.6 98.2 L1293.3 96.0 L1294.0 93.9 L1294.7 91.8 L1295.4 89.7 L1296.1 87.8 L1296.9 85.9 L1297.6 84.0 L1298.3 82.3 L1299.0 80.6 L1299.7 78.9 L1300.5 77.4 L1301.2 75.9M1482.4 479.8 L1485.3 476.8 L1488.2 473.8 L1491.0 470.7 L1493.7 467.6 L1496.4 464.4 L1499.0 461.2 L1501.6 458.0 L1504.1 454.6 L1506.6 451.3 L1509.0 447.9 L1511.3 444.4 L1513.5 440.9 L1515.8 437.4 L1517.9 433.8 L1520.0 430.2 L1522.0 426.6 L1523.9 422.9 L1525.8 419.2 L1527.6 415.4 L1529.4 411.7 L1531.1 407.8 L1532.7 404.0 L1534.2 400.1 L1535.7 396.2 L1537.1 392.3 L1538.4 388.3 L1539.7 384.3 L1540.9 380.3 L1542.0 376.3 L1543.1 372.2 L1544.1 368.2 L1545.0 364.1 L1545.8 360.0 L1546.6 355.9 L1547.3 351.7 L1547.9 347.6 L1548.5 343.4 L1548.9 339.2 L1549.4 335.0 L1549.7 330.8 L1549.9 326.6 L1550.1 322.4 L1550.2 318.2 L1550.3 314.0 L1550.2 309.8 L1550.1 305.6 L1549.9 301.3 L1549.7 297.1 L1549.4 292.9 L1548.9 288.7 L1548.5 284.5 L1547.9 280.3 L1547.3 276.1 L1546.6 271.9 L1545.8 267.8 L1545.0 263.6 L1544.1 259.4 L1543.1 255.3 L1542.0 251.2 L1540.9 247.1 L1539.7 243.0 L1538.4 239.0 L1537.1 234.9 L1535.7 230.9 L1534.2 226.9 L1532.7 222.9 L1531.1 219.0 L1529.4 215.1 L1527.6 211.2 L1525.8 207.3 L1523.9 203.5 L1522.0 199.7 L1520.0 195.9 L1517.9 192.2 L1515.8 188.5 L1513.5 184.8 L1511.3 181.2 L1509.0 177.6 L1506.6 174.0 L1504.1 170.5 L1501.6 167.1 L1499.0 163.6 L1496.4 160.3 L1493.7 156.9 L1491.0 153.6 L1488.2 150.4 L1485.3 147.2 L1482.4 144.0 L1479.5 140.9 L1476.5 137.9 L1473.4 134.9 L1470.3 132.0 L1467.2 129.1 L1463.9 126.2 L1460.7 123.4 L1457.4 120.7 L1454.0 118.0 L1450.7 115.4 L1447.2 112.9 L1443.7 110.4 L1440.2 107.9 L1436.7 105.6 L1433.1 103.3 L1429.4 101.0 L1425.8 98.8 L1422.1 96.7 L1418.3 94.6 L1414.5 92.6 L1410.7 90.7 L1406.9 88.8 L1403.0 87.0 L1399.1 85.3 L1395.2 83.6 L1391.3 82.0 L1387.3 80.5 L1383.3 79.0 L1379.3 77.7 L1375.2 76.3 L1371.1 75.1 L1367.1 73.9 L1363.0 72.8 L1358.8 71.7 L1354.7 70.8 L1350.6 69.9M1137.7 130.5 L1140.7 127.6 L1143.8 124.8 L1146.9 122.1 L1150.0 119.4 L1153.3 116.7 L1156.5 114.1 L1159.8 111.6 L1163.2 109.1 L1166.5 106.7 L1170.0 104.4 L1173.5 102.1 L1177.0 99.9 L1180.5 97.7 L1184.1 95.6 L1187.8 93.6 L1191.4 91.6 L1195.1 89.7 L1198.9 87.9 L1202.7 86.1 L1206.5 84.4 L1210.3 82.8 L1214.2 81.2 L1218.1 79.8 L1222.0 78.3 L1225.9 77.0 L1229.9 75.7 L1233.9 74.5 L1237.9 73.3 L1242.0 72.3 L1246.1 71.2 L1250.1 70.3 L1254.2 69.5 L1258.4 68.7 L1262.5 68.0 L1266.6 67.3" fill="none" stroke="#000" stroke-width="0.9" stroke-dasharray="2 2"/>
</g>
<circle cx="1308.6" cy="306.6" r="245.4" fill="none" stroke="#000" stroke-width="1.1"/>
<circle cx="1266.0" cy="348.6" r="5.1" fill="#fff" stroke="#000" stroke-width="2.8"/>
<rect x="1084.8" y="562.0" width="447.0" height="24.8" fill="url(#cb)"/>
<path d="M1085.3 562.0 L1062.8 574.4 L1085.3 586.8 Z" fill="#000"/>
<path d="M1531.3 562.0 L1554.3 574.4 L1531.3 586.8 Z" fill="#fff"/>
<path d="M1531.8 562.5 L1554.3 574.4 L1531.8 586.8" fill="none" stroke="#000" stroke-width="0.8"/>
<line x1="1084.8" y1="562.5" x2="1531.8" y2="562.5" stroke="#000" stroke-width="1"/>
<line x1="1084.8" y1="586.8" x2="1084.8" y2="589.0" stroke="#666" stroke-width="1"/>
<text x="1084.8" y="604.4" text-anchor="middle" font-size="17.2">1450</text>
<line x1="1196.5" y1="586.8" x2="1196.5" y2="589.0" stroke="#666" stroke-width="1"/>
<text x="1196.5" y="604.4" text-anchor="middle" font-size="17.2">1625</text>
<line x1="1308.3" y1="586.8" x2="1308.3" y2="589.0" stroke="#666" stroke-width="1"/>
<text x="1308.3" y="604.4" text-anchor="middle" font-size="17.2">1800</text>
<line x1="1420.0" y1="586.8" x2="1420.0" y2="589.0" stroke="#666" stroke-width="1"/>
<text x="1420.0" y="604.4" text-anchor="middle" font-size="17.2">1975</text>
<line x1="1531.8" y1="586.8" x2="1531.8" y2="589.0" stroke="#666" stroke-width="1"/>
<text x="1531.8" y="604.4" text-anchor="middle" font-size="17.2">2150</text>
<text x="1308.7" y="625" text-anchor="middle" font-size="19">Temperature [K]</text>
<text x="1063.3" y="552.8" font-size="17.2">Day 137</text>
</svg>
</body></html>
